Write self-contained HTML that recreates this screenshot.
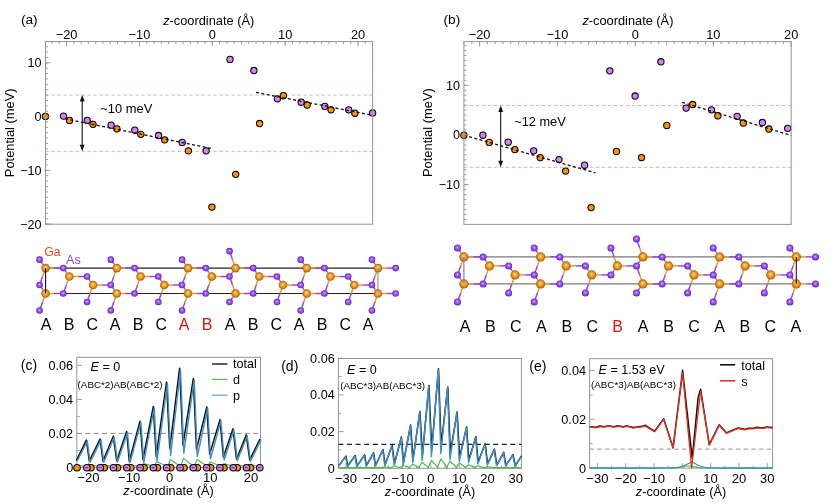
<!DOCTYPE html>
<html><head><meta charset="utf-8"><title>Potential profiles</title><style>html,body{margin:0;padding:0;background:#fff;width:830px;height:504px;overflow:hidden}</style></head><body>
<svg width="830" height="504" viewBox="0 0 830 504" style="position:absolute;left:0;top:0" font-family="&apos;Liberation Sans&apos;, Arial, Helvetica, sans-serif">
<rect width="830" height="504" fill="#fff"/>
<line x1="45.50" y1="95.10" x2="372.60" y2="95.10" stroke="#f5a39d" stroke-width="0.9" stroke-dasharray="3.4,2.6"/>
<line x1="45.50" y1="151.40" x2="372.60" y2="151.40" stroke="#f5a39d" stroke-width="0.9" stroke-dasharray="3.4,2.6"/>
<line x1="82.20" y1="100.50" x2="82.20" y2="145.60" stroke="#111" stroke-width="1.1" />
<path d="M82.2,94.9 L79.8,101.4 L84.6,101.4 Z" fill="#111"/>
<path d="M82.2,151.2 L79.8,144.7 L84.6,144.7 Z" fill="#111"/>
<text x="100.30" y="112.70" font-size="12.9" text-anchor="start" fill="#000" >~10 meV</text>
<circle cx="63.50" cy="116.10" r="3.15" fill="#d682f7" stroke="#000" stroke-width="1.05"/>
<circle cx="87.20" cy="120.40" r="3.15" fill="#d682f7" stroke="#000" stroke-width="1.05"/>
<circle cx="111.10" cy="125.20" r="3.15" fill="#d682f7" stroke="#000" stroke-width="1.05"/>
<circle cx="134.80" cy="130.10" r="3.15" fill="#d682f7" stroke="#000" stroke-width="1.05"/>
<circle cx="158.60" cy="135.50" r="3.15" fill="#d682f7" stroke="#000" stroke-width="1.05"/>
<circle cx="182.20" cy="142.40" r="3.15" fill="#d682f7" stroke="#000" stroke-width="1.05"/>
<circle cx="206.10" cy="150.80" r="3.15" fill="#d682f7" stroke="#000" stroke-width="1.05"/>
<circle cx="230.00" cy="59.40" r="3.15" fill="#d682f7" stroke="#000" stroke-width="1.05"/>
<circle cx="253.90" cy="70.50" r="3.15" fill="#d682f7" stroke="#000" stroke-width="1.05"/>
<circle cx="277.40" cy="98.80" r="3.15" fill="#d682f7" stroke="#000" stroke-width="1.05"/>
<circle cx="301.20" cy="102.20" r="3.15" fill="#d682f7" stroke="#000" stroke-width="1.05"/>
<circle cx="324.90" cy="106.30" r="3.15" fill="#d682f7" stroke="#000" stroke-width="1.05"/>
<circle cx="348.70" cy="109.80" r="3.15" fill="#d682f7" stroke="#000" stroke-width="1.05"/>
<circle cx="372.60" cy="112.90" r="3.15" fill="#d682f7" stroke="#000" stroke-width="1.05"/>
<circle cx="45.40" cy="116.40" r="3.15" fill="#ff9200" stroke="#000" stroke-width="1.05"/>
<circle cx="69.50" cy="120.40" r="3.15" fill="#ff9200" stroke="#000" stroke-width="1.05"/>
<circle cx="93.00" cy="124.30" r="3.15" fill="#ff9200" stroke="#000" stroke-width="1.05"/>
<circle cx="116.90" cy="128.80" r="3.15" fill="#ff9200" stroke="#000" stroke-width="1.05"/>
<circle cx="140.80" cy="134.30" r="3.15" fill="#ff9200" stroke="#000" stroke-width="1.05"/>
<circle cx="164.70" cy="139.80" r="3.15" fill="#ff9200" stroke="#000" stroke-width="1.05"/>
<circle cx="188.40" cy="150.80" r="3.15" fill="#ff9200" stroke="#000" stroke-width="1.05"/>
<circle cx="211.90" cy="207.10" r="3.15" fill="#ff9200" stroke="#000" stroke-width="1.05"/>
<circle cx="235.70" cy="174.30" r="3.15" fill="#ff9200" stroke="#000" stroke-width="1.05"/>
<circle cx="259.60" cy="123.50" r="3.15" fill="#ff9200" stroke="#000" stroke-width="1.05"/>
<circle cx="283.40" cy="95.70" r="3.15" fill="#ff9200" stroke="#000" stroke-width="1.05"/>
<circle cx="307.20" cy="105.00" r="3.15" fill="#ff9200" stroke="#000" stroke-width="1.05"/>
<circle cx="331.00" cy="109.80" r="3.15" fill="#ff9200" stroke="#000" stroke-width="1.05"/>
<circle cx="354.90" cy="113.20" r="3.15" fill="#ff9200" stroke="#000" stroke-width="1.05"/>
<line x1="65.00" y1="118.80" x2="212.00" y2="148.60" stroke="#111" stroke-width="1.3" stroke-dasharray="3.0,2.4"/>
<line x1="256.00" y1="92.40" x2="372.20" y2="115.20" stroke="#111" stroke-width="1.3" stroke-dasharray="3.0,2.4"/>
<rect x="45.5" y="41.5" width="327.1" height="182.7" fill="none" stroke="#959595" stroke-width="1"/>
<line x1="51.99" y1="41.50" x2="51.99" y2="44.10" stroke="#959595" stroke-width="0.9" />
<line x1="59.27" y1="41.50" x2="59.27" y2="44.10" stroke="#959595" stroke-width="0.9" />
<line x1="66.56" y1="41.50" x2="66.56" y2="44.10" stroke="#959595" stroke-width="0.9" />
<line x1="73.85" y1="41.50" x2="73.85" y2="44.10" stroke="#959595" stroke-width="0.9" />
<line x1="81.13" y1="41.50" x2="81.13" y2="44.10" stroke="#959595" stroke-width="0.9" />
<line x1="88.42" y1="41.50" x2="88.42" y2="44.10" stroke="#959595" stroke-width="0.9" />
<line x1="95.71" y1="41.50" x2="95.71" y2="44.10" stroke="#959595" stroke-width="0.9" />
<line x1="103.00" y1="41.50" x2="103.00" y2="44.10" stroke="#959595" stroke-width="0.9" />
<line x1="110.28" y1="41.50" x2="110.28" y2="44.10" stroke="#959595" stroke-width="0.9" />
<line x1="117.57" y1="41.50" x2="117.57" y2="44.10" stroke="#959595" stroke-width="0.9" />
<line x1="124.86" y1="41.50" x2="124.86" y2="44.10" stroke="#959595" stroke-width="0.9" />
<line x1="132.14" y1="41.50" x2="132.14" y2="44.10" stroke="#959595" stroke-width="0.9" />
<line x1="139.43" y1="41.50" x2="139.43" y2="44.10" stroke="#959595" stroke-width="0.9" />
<line x1="146.72" y1="41.50" x2="146.72" y2="44.10" stroke="#959595" stroke-width="0.9" />
<line x1="154.00" y1="41.50" x2="154.00" y2="44.10" stroke="#959595" stroke-width="0.9" />
<line x1="161.29" y1="41.50" x2="161.29" y2="44.10" stroke="#959595" stroke-width="0.9" />
<line x1="168.58" y1="41.50" x2="168.58" y2="44.10" stroke="#959595" stroke-width="0.9" />
<line x1="175.87" y1="41.50" x2="175.87" y2="44.10" stroke="#959595" stroke-width="0.9" />
<line x1="183.15" y1="41.50" x2="183.15" y2="44.10" stroke="#959595" stroke-width="0.9" />
<line x1="190.44" y1="41.50" x2="190.44" y2="44.10" stroke="#959595" stroke-width="0.9" />
<line x1="197.73" y1="41.50" x2="197.73" y2="44.10" stroke="#959595" stroke-width="0.9" />
<line x1="205.01" y1="41.50" x2="205.01" y2="44.10" stroke="#959595" stroke-width="0.9" />
<line x1="212.30" y1="41.50" x2="212.30" y2="44.10" stroke="#959595" stroke-width="0.9" />
<line x1="219.59" y1="41.50" x2="219.59" y2="44.10" stroke="#959595" stroke-width="0.9" />
<line x1="226.87" y1="41.50" x2="226.87" y2="44.10" stroke="#959595" stroke-width="0.9" />
<line x1="234.16" y1="41.50" x2="234.16" y2="44.10" stroke="#959595" stroke-width="0.9" />
<line x1="241.45" y1="41.50" x2="241.45" y2="44.10" stroke="#959595" stroke-width="0.9" />
<line x1="248.74" y1="41.50" x2="248.74" y2="44.10" stroke="#959595" stroke-width="0.9" />
<line x1="256.02" y1="41.50" x2="256.02" y2="44.10" stroke="#959595" stroke-width="0.9" />
<line x1="263.31" y1="41.50" x2="263.31" y2="44.10" stroke="#959595" stroke-width="0.9" />
<line x1="270.60" y1="41.50" x2="270.60" y2="44.10" stroke="#959595" stroke-width="0.9" />
<line x1="277.88" y1="41.50" x2="277.88" y2="44.10" stroke="#959595" stroke-width="0.9" />
<line x1="285.17" y1="41.50" x2="285.17" y2="44.10" stroke="#959595" stroke-width="0.9" />
<line x1="292.46" y1="41.50" x2="292.46" y2="44.10" stroke="#959595" stroke-width="0.9" />
<line x1="299.74" y1="41.50" x2="299.74" y2="44.10" stroke="#959595" stroke-width="0.9" />
<line x1="307.03" y1="41.50" x2="307.03" y2="44.10" stroke="#959595" stroke-width="0.9" />
<line x1="314.32" y1="41.50" x2="314.32" y2="44.10" stroke="#959595" stroke-width="0.9" />
<line x1="321.61" y1="41.50" x2="321.61" y2="44.10" stroke="#959595" stroke-width="0.9" />
<line x1="328.89" y1="41.50" x2="328.89" y2="44.10" stroke="#959595" stroke-width="0.9" />
<line x1="336.18" y1="41.50" x2="336.18" y2="44.10" stroke="#959595" stroke-width="0.9" />
<line x1="343.47" y1="41.50" x2="343.47" y2="44.10" stroke="#959595" stroke-width="0.9" />
<line x1="350.75" y1="41.50" x2="350.75" y2="44.10" stroke="#959595" stroke-width="0.9" />
<line x1="358.04" y1="41.50" x2="358.04" y2="44.10" stroke="#959595" stroke-width="0.9" />
<line x1="365.33" y1="41.50" x2="365.33" y2="44.10" stroke="#959595" stroke-width="0.9" />
<line x1="66.56" y1="41.50" x2="66.56" y2="46.50" stroke="#959595" stroke-width="0.9" />
<line x1="139.43" y1="41.50" x2="139.43" y2="46.50" stroke="#959595" stroke-width="0.9" />
<line x1="212.30" y1="41.50" x2="212.30" y2="46.50" stroke="#959595" stroke-width="0.9" />
<line x1="285.17" y1="41.50" x2="285.17" y2="46.50" stroke="#959595" stroke-width="0.9" />
<line x1="358.04" y1="41.50" x2="358.04" y2="46.50" stroke="#959595" stroke-width="0.9" />
<line x1="45.50" y1="224.10" x2="48.10" y2="224.10" stroke="#959595" stroke-width="0.9" />
<line x1="45.50" y1="218.72" x2="48.10" y2="218.72" stroke="#959595" stroke-width="0.9" />
<line x1="45.50" y1="213.35" x2="48.10" y2="213.35" stroke="#959595" stroke-width="0.9" />
<line x1="45.50" y1="207.97" x2="48.10" y2="207.97" stroke="#959595" stroke-width="0.9" />
<line x1="45.50" y1="202.60" x2="48.10" y2="202.60" stroke="#959595" stroke-width="0.9" />
<line x1="45.50" y1="197.22" x2="48.10" y2="197.22" stroke="#959595" stroke-width="0.9" />
<line x1="45.50" y1="191.85" x2="48.10" y2="191.85" stroke="#959595" stroke-width="0.9" />
<line x1="45.50" y1="186.47" x2="48.10" y2="186.47" stroke="#959595" stroke-width="0.9" />
<line x1="45.50" y1="181.10" x2="48.10" y2="181.10" stroke="#959595" stroke-width="0.9" />
<line x1="45.50" y1="175.72" x2="48.10" y2="175.72" stroke="#959595" stroke-width="0.9" />
<line x1="45.50" y1="170.35" x2="48.10" y2="170.35" stroke="#959595" stroke-width="0.9" />
<line x1="45.50" y1="164.97" x2="48.10" y2="164.97" stroke="#959595" stroke-width="0.9" />
<line x1="45.50" y1="159.60" x2="48.10" y2="159.60" stroke="#959595" stroke-width="0.9" />
<line x1="45.50" y1="154.22" x2="48.10" y2="154.22" stroke="#959595" stroke-width="0.9" />
<line x1="45.50" y1="148.85" x2="48.10" y2="148.85" stroke="#959595" stroke-width="0.9" />
<line x1="45.50" y1="143.47" x2="48.10" y2="143.47" stroke="#959595" stroke-width="0.9" />
<line x1="45.50" y1="138.10" x2="48.10" y2="138.10" stroke="#959595" stroke-width="0.9" />
<line x1="45.50" y1="132.72" x2="48.10" y2="132.72" stroke="#959595" stroke-width="0.9" />
<line x1="45.50" y1="127.35" x2="48.10" y2="127.35" stroke="#959595" stroke-width="0.9" />
<line x1="45.50" y1="121.97" x2="48.10" y2="121.97" stroke="#959595" stroke-width="0.9" />
<line x1="45.50" y1="116.60" x2="48.10" y2="116.60" stroke="#959595" stroke-width="0.9" />
<line x1="45.50" y1="111.22" x2="48.10" y2="111.22" stroke="#959595" stroke-width="0.9" />
<line x1="45.50" y1="105.85" x2="48.10" y2="105.85" stroke="#959595" stroke-width="0.9" />
<line x1="45.50" y1="100.47" x2="48.10" y2="100.47" stroke="#959595" stroke-width="0.9" />
<line x1="45.50" y1="95.10" x2="48.10" y2="95.10" stroke="#959595" stroke-width="0.9" />
<line x1="45.50" y1="89.72" x2="48.10" y2="89.72" stroke="#959595" stroke-width="0.9" />
<line x1="45.50" y1="84.35" x2="48.10" y2="84.35" stroke="#959595" stroke-width="0.9" />
<line x1="45.50" y1="78.97" x2="48.10" y2="78.97" stroke="#959595" stroke-width="0.9" />
<line x1="45.50" y1="73.60" x2="48.10" y2="73.60" stroke="#959595" stroke-width="0.9" />
<line x1="45.50" y1="68.22" x2="48.10" y2="68.22" stroke="#959595" stroke-width="0.9" />
<line x1="45.50" y1="62.85" x2="48.10" y2="62.85" stroke="#959595" stroke-width="0.9" />
<line x1="45.50" y1="57.47" x2="48.10" y2="57.47" stroke="#959595" stroke-width="0.9" />
<line x1="45.50" y1="52.10" x2="48.10" y2="52.10" stroke="#959595" stroke-width="0.9" />
<line x1="45.50" y1="46.72" x2="48.10" y2="46.72" stroke="#959595" stroke-width="0.9" />
<line x1="45.50" y1="224.10" x2="50.50" y2="224.10" stroke="#959595" stroke-width="0.9" />
<line x1="45.50" y1="170.35" x2="50.50" y2="170.35" stroke="#959595" stroke-width="0.9" />
<line x1="45.50" y1="116.60" x2="50.50" y2="116.60" stroke="#959595" stroke-width="0.9" />
<line x1="45.50" y1="62.85" x2="50.50" y2="62.85" stroke="#959595" stroke-width="0.9" />
<text x="66.56" y="38.90" font-size="12.8" text-anchor="middle" fill="#000" >−20</text>
<text x="139.43" y="38.90" font-size="12.8" text-anchor="middle" fill="#000" >−10</text>
<text x="212.30" y="38.90" font-size="12.8" text-anchor="middle" fill="#000" >0</text>
<text x="285.17" y="38.90" font-size="12.8" text-anchor="middle" fill="#000" >10</text>
<text x="358.04" y="38.90" font-size="12.8" text-anchor="middle" fill="#000" >20</text>
<text x="41.60" y="67.25" font-size="12.6" text-anchor="end" fill="#000" >10</text>
<text x="41.60" y="121.00" font-size="12.6" text-anchor="end" fill="#000" >0</text>
<text x="41.60" y="174.75" font-size="12.6" text-anchor="end" fill="#000" >−10</text>
<text x="41.60" y="228.50" font-size="12.6" text-anchor="end" fill="#000" >−20</text>
<text x="20.90" y="23.60" font-size="13.7" text-anchor="start" fill="#000" >(a)</text>
<text x="208.70" y="24.70" font-size="12.8" text-anchor="middle" fill="#000" ><tspan font-style="italic">z</tspan>-coordinate (Å)</text>
<text transform="translate(13.9,132.8) rotate(-90)" font-size="12.9" text-anchor="middle">Potential (meV)</text>
<line x1="463.90" y1="105.50" x2="791.20" y2="105.50" stroke="#f5a39d" stroke-width="0.9" stroke-dasharray="3.4,2.6"/>
<line x1="463.90" y1="167.40" x2="791.20" y2="167.40" stroke="#f5a39d" stroke-width="0.9" stroke-dasharray="3.4,2.6"/>
<line x1="500.70" y1="111.20" x2="500.70" y2="161.70" stroke="#111" stroke-width="1.1" />
<path d="M500.7,105.6 L498.3,112.1 L503.1,112.1 Z" fill="#111"/>
<path d="M500.7,167.3 L498.3,160.8 L503.1,160.8 Z" fill="#111"/>
<text x="514.20" y="125.80" font-size="12.8" text-anchor="start" fill="#000" >~12 meV</text>
<circle cx="482.90" cy="135.20" r="3.15" fill="#d682f7" stroke="#000" stroke-width="1.05"/>
<circle cx="508.20" cy="142.20" r="3.15" fill="#d682f7" stroke="#000" stroke-width="1.05"/>
<circle cx="533.70" cy="150.80" r="3.15" fill="#d682f7" stroke="#000" stroke-width="1.05"/>
<circle cx="559.00" cy="159.60" r="3.15" fill="#d682f7" stroke="#000" stroke-width="1.05"/>
<circle cx="584.60" cy="165.20" r="3.15" fill="#d682f7" stroke="#000" stroke-width="1.05"/>
<circle cx="609.80" cy="70.80" r="3.15" fill="#d682f7" stroke="#000" stroke-width="1.05"/>
<circle cx="635.10" cy="96.00" r="3.15" fill="#d682f7" stroke="#000" stroke-width="1.05"/>
<circle cx="660.90" cy="61.80" r="3.15" fill="#d682f7" stroke="#000" stroke-width="1.05"/>
<circle cx="686.10" cy="108.10" r="3.15" fill="#d682f7" stroke="#000" stroke-width="1.05"/>
<circle cx="711.50" cy="109.80" r="3.15" fill="#d682f7" stroke="#000" stroke-width="1.05"/>
<circle cx="737.10" cy="116.30" r="3.15" fill="#d682f7" stroke="#000" stroke-width="1.05"/>
<circle cx="762.40" cy="122.50" r="3.15" fill="#d682f7" stroke="#000" stroke-width="1.05"/>
<circle cx="787.70" cy="128.30" r="3.15" fill="#d682f7" stroke="#000" stroke-width="1.05"/>
<circle cx="463.90" cy="135.20" r="3.15" fill="#ff9200" stroke="#000" stroke-width="1.05"/>
<circle cx="489.30" cy="142.40" r="3.15" fill="#ff9200" stroke="#000" stroke-width="1.05"/>
<circle cx="514.80" cy="149.60" r="3.15" fill="#ff9200" stroke="#000" stroke-width="1.05"/>
<circle cx="540.20" cy="157.60" r="3.15" fill="#ff9200" stroke="#000" stroke-width="1.05"/>
<circle cx="565.60" cy="171.10" r="3.15" fill="#ff9200" stroke="#000" stroke-width="1.05"/>
<circle cx="591.10" cy="207.60" r="3.15" fill="#ff9200" stroke="#000" stroke-width="1.05"/>
<circle cx="616.50" cy="151.40" r="3.15" fill="#ff9200" stroke="#000" stroke-width="1.05"/>
<circle cx="641.50" cy="157.60" r="3.15" fill="#ff9200" stroke="#000" stroke-width="1.05"/>
<circle cx="666.80" cy="125.40" r="3.15" fill="#ff9200" stroke="#000" stroke-width="1.05"/>
<circle cx="692.70" cy="104.50" r="3.15" fill="#ff9200" stroke="#000" stroke-width="1.05"/>
<circle cx="717.90" cy="115.70" r="3.15" fill="#ff9200" stroke="#000" stroke-width="1.05"/>
<circle cx="743.30" cy="123.00" r="3.15" fill="#ff9200" stroke="#000" stroke-width="1.05"/>
<circle cx="768.90" cy="129.00" r="3.15" fill="#ff9200" stroke="#000" stroke-width="1.05"/>
<line x1="463.90" y1="135.20" x2="595.50" y2="172.90" stroke="#111" stroke-width="1.3" stroke-dasharray="3.0,2.4"/>
<line x1="682.20" y1="102.30" x2="791.30" y2="135.50" stroke="#111" stroke-width="1.3" stroke-dasharray="3.0,2.4"/>
<rect x="463.9" y="41.6" width="327.30000000000007" height="182.8" fill="none" stroke="#959595" stroke-width="1"/>
<line x1="464.02" y1="41.60" x2="464.02" y2="44.20" stroke="#959595" stroke-width="0.9" />
<line x1="471.81" y1="41.60" x2="471.81" y2="44.20" stroke="#959595" stroke-width="0.9" />
<line x1="479.60" y1="41.60" x2="479.60" y2="44.20" stroke="#959595" stroke-width="0.9" />
<line x1="487.39" y1="41.60" x2="487.39" y2="44.20" stroke="#959595" stroke-width="0.9" />
<line x1="495.18" y1="41.60" x2="495.18" y2="44.20" stroke="#959595" stroke-width="0.9" />
<line x1="502.97" y1="41.60" x2="502.97" y2="44.20" stroke="#959595" stroke-width="0.9" />
<line x1="510.76" y1="41.60" x2="510.76" y2="44.20" stroke="#959595" stroke-width="0.9" />
<line x1="518.55" y1="41.60" x2="518.55" y2="44.20" stroke="#959595" stroke-width="0.9" />
<line x1="526.34" y1="41.60" x2="526.34" y2="44.20" stroke="#959595" stroke-width="0.9" />
<line x1="534.13" y1="41.60" x2="534.13" y2="44.20" stroke="#959595" stroke-width="0.9" />
<line x1="541.92" y1="41.60" x2="541.92" y2="44.20" stroke="#959595" stroke-width="0.9" />
<line x1="549.71" y1="41.60" x2="549.71" y2="44.20" stroke="#959595" stroke-width="0.9" />
<line x1="557.50" y1="41.60" x2="557.50" y2="44.20" stroke="#959595" stroke-width="0.9" />
<line x1="565.29" y1="41.60" x2="565.29" y2="44.20" stroke="#959595" stroke-width="0.9" />
<line x1="573.08" y1="41.60" x2="573.08" y2="44.20" stroke="#959595" stroke-width="0.9" />
<line x1="580.87" y1="41.60" x2="580.87" y2="44.20" stroke="#959595" stroke-width="0.9" />
<line x1="588.66" y1="41.60" x2="588.66" y2="44.20" stroke="#959595" stroke-width="0.9" />
<line x1="596.45" y1="41.60" x2="596.45" y2="44.20" stroke="#959595" stroke-width="0.9" />
<line x1="604.24" y1="41.60" x2="604.24" y2="44.20" stroke="#959595" stroke-width="0.9" />
<line x1="612.03" y1="41.60" x2="612.03" y2="44.20" stroke="#959595" stroke-width="0.9" />
<line x1="619.82" y1="41.60" x2="619.82" y2="44.20" stroke="#959595" stroke-width="0.9" />
<line x1="627.61" y1="41.60" x2="627.61" y2="44.20" stroke="#959595" stroke-width="0.9" />
<line x1="635.40" y1="41.60" x2="635.40" y2="44.20" stroke="#959595" stroke-width="0.9" />
<line x1="643.19" y1="41.60" x2="643.19" y2="44.20" stroke="#959595" stroke-width="0.9" />
<line x1="650.98" y1="41.60" x2="650.98" y2="44.20" stroke="#959595" stroke-width="0.9" />
<line x1="658.77" y1="41.60" x2="658.77" y2="44.20" stroke="#959595" stroke-width="0.9" />
<line x1="666.56" y1="41.60" x2="666.56" y2="44.20" stroke="#959595" stroke-width="0.9" />
<line x1="674.35" y1="41.60" x2="674.35" y2="44.20" stroke="#959595" stroke-width="0.9" />
<line x1="682.14" y1="41.60" x2="682.14" y2="44.20" stroke="#959595" stroke-width="0.9" />
<line x1="689.93" y1="41.60" x2="689.93" y2="44.20" stroke="#959595" stroke-width="0.9" />
<line x1="697.72" y1="41.60" x2="697.72" y2="44.20" stroke="#959595" stroke-width="0.9" />
<line x1="705.51" y1="41.60" x2="705.51" y2="44.20" stroke="#959595" stroke-width="0.9" />
<line x1="713.30" y1="41.60" x2="713.30" y2="44.20" stroke="#959595" stroke-width="0.9" />
<line x1="721.09" y1="41.60" x2="721.09" y2="44.20" stroke="#959595" stroke-width="0.9" />
<line x1="728.88" y1="41.60" x2="728.88" y2="44.20" stroke="#959595" stroke-width="0.9" />
<line x1="736.67" y1="41.60" x2="736.67" y2="44.20" stroke="#959595" stroke-width="0.9" />
<line x1="744.46" y1="41.60" x2="744.46" y2="44.20" stroke="#959595" stroke-width="0.9" />
<line x1="752.25" y1="41.60" x2="752.25" y2="44.20" stroke="#959595" stroke-width="0.9" />
<line x1="760.04" y1="41.60" x2="760.04" y2="44.20" stroke="#959595" stroke-width="0.9" />
<line x1="767.83" y1="41.60" x2="767.83" y2="44.20" stroke="#959595" stroke-width="0.9" />
<line x1="775.62" y1="41.60" x2="775.62" y2="44.20" stroke="#959595" stroke-width="0.9" />
<line x1="783.41" y1="41.60" x2="783.41" y2="44.20" stroke="#959595" stroke-width="0.9" />
<line x1="479.60" y1="41.60" x2="479.60" y2="46.60" stroke="#959595" stroke-width="0.9" />
<line x1="557.50" y1="41.60" x2="557.50" y2="46.60" stroke="#959595" stroke-width="0.9" />
<line x1="635.40" y1="41.60" x2="635.40" y2="46.60" stroke="#959595" stroke-width="0.9" />
<line x1="713.30" y1="41.60" x2="713.30" y2="46.60" stroke="#959595" stroke-width="0.9" />
<line x1="791.20" y1="41.60" x2="791.20" y2="46.60" stroke="#959595" stroke-width="0.9" />
<line x1="463.90" y1="219.49" x2="466.50" y2="219.49" stroke="#959595" stroke-width="0.9" />
<line x1="463.90" y1="214.52" x2="466.50" y2="214.52" stroke="#959595" stroke-width="0.9" />
<line x1="463.90" y1="209.55" x2="466.50" y2="209.55" stroke="#959595" stroke-width="0.9" />
<line x1="463.90" y1="204.58" x2="466.50" y2="204.58" stroke="#959595" stroke-width="0.9" />
<line x1="463.90" y1="199.61" x2="466.50" y2="199.61" stroke="#959595" stroke-width="0.9" />
<line x1="463.90" y1="194.64" x2="466.50" y2="194.64" stroke="#959595" stroke-width="0.9" />
<line x1="463.90" y1="189.67" x2="466.50" y2="189.67" stroke="#959595" stroke-width="0.9" />
<line x1="463.90" y1="184.70" x2="466.50" y2="184.70" stroke="#959595" stroke-width="0.9" />
<line x1="463.90" y1="179.73" x2="466.50" y2="179.73" stroke="#959595" stroke-width="0.9" />
<line x1="463.90" y1="174.76" x2="466.50" y2="174.76" stroke="#959595" stroke-width="0.9" />
<line x1="463.90" y1="169.79" x2="466.50" y2="169.79" stroke="#959595" stroke-width="0.9" />
<line x1="463.90" y1="164.82" x2="466.50" y2="164.82" stroke="#959595" stroke-width="0.9" />
<line x1="463.90" y1="159.85" x2="466.50" y2="159.85" stroke="#959595" stroke-width="0.9" />
<line x1="463.90" y1="154.88" x2="466.50" y2="154.88" stroke="#959595" stroke-width="0.9" />
<line x1="463.90" y1="149.91" x2="466.50" y2="149.91" stroke="#959595" stroke-width="0.9" />
<line x1="463.90" y1="144.94" x2="466.50" y2="144.94" stroke="#959595" stroke-width="0.9" />
<line x1="463.90" y1="139.97" x2="466.50" y2="139.97" stroke="#959595" stroke-width="0.9" />
<line x1="463.90" y1="135.00" x2="466.50" y2="135.00" stroke="#959595" stroke-width="0.9" />
<line x1="463.90" y1="130.03" x2="466.50" y2="130.03" stroke="#959595" stroke-width="0.9" />
<line x1="463.90" y1="125.06" x2="466.50" y2="125.06" stroke="#959595" stroke-width="0.9" />
<line x1="463.90" y1="120.09" x2="466.50" y2="120.09" stroke="#959595" stroke-width="0.9" />
<line x1="463.90" y1="115.12" x2="466.50" y2="115.12" stroke="#959595" stroke-width="0.9" />
<line x1="463.90" y1="110.15" x2="466.50" y2="110.15" stroke="#959595" stroke-width="0.9" />
<line x1="463.90" y1="105.18" x2="466.50" y2="105.18" stroke="#959595" stroke-width="0.9" />
<line x1="463.90" y1="100.21" x2="466.50" y2="100.21" stroke="#959595" stroke-width="0.9" />
<line x1="463.90" y1="95.24" x2="466.50" y2="95.24" stroke="#959595" stroke-width="0.9" />
<line x1="463.90" y1="90.27" x2="466.50" y2="90.27" stroke="#959595" stroke-width="0.9" />
<line x1="463.90" y1="85.30" x2="466.50" y2="85.30" stroke="#959595" stroke-width="0.9" />
<line x1="463.90" y1="80.33" x2="466.50" y2="80.33" stroke="#959595" stroke-width="0.9" />
<line x1="463.90" y1="75.36" x2="466.50" y2="75.36" stroke="#959595" stroke-width="0.9" />
<line x1="463.90" y1="70.39" x2="466.50" y2="70.39" stroke="#959595" stroke-width="0.9" />
<line x1="463.90" y1="65.42" x2="466.50" y2="65.42" stroke="#959595" stroke-width="0.9" />
<line x1="463.90" y1="60.45" x2="466.50" y2="60.45" stroke="#959595" stroke-width="0.9" />
<line x1="463.90" y1="55.48" x2="466.50" y2="55.48" stroke="#959595" stroke-width="0.9" />
<line x1="463.90" y1="50.51" x2="466.50" y2="50.51" stroke="#959595" stroke-width="0.9" />
<line x1="463.90" y1="45.54" x2="466.50" y2="45.54" stroke="#959595" stroke-width="0.9" />
<line x1="463.90" y1="184.70" x2="468.90" y2="184.70" stroke="#959595" stroke-width="0.9" />
<line x1="463.90" y1="135.00" x2="468.90" y2="135.00" stroke="#959595" stroke-width="0.9" />
<line x1="463.90" y1="85.30" x2="468.90" y2="85.30" stroke="#959595" stroke-width="0.9" />
<text x="479.60" y="39.00" font-size="12.8" text-anchor="middle" fill="#000" >−20</text>
<text x="557.50" y="39.00" font-size="12.8" text-anchor="middle" fill="#000" >−10</text>
<text x="635.40" y="39.00" font-size="12.8" text-anchor="middle" fill="#000" >0</text>
<text x="713.30" y="39.00" font-size="12.8" text-anchor="middle" fill="#000" >10</text>
<text x="791.20" y="39.00" font-size="12.8" text-anchor="middle" fill="#000" >20</text>
<text x="460.00" y="89.70" font-size="12.6" text-anchor="end" fill="#000" >10</text>
<text x="460.00" y="139.40" font-size="12.6" text-anchor="end" fill="#000" >0</text>
<text x="460.00" y="189.10" font-size="12.6" text-anchor="end" fill="#000" >−10</text>
<text x="443.50" y="23.60" font-size="13.7" text-anchor="start" fill="#000" >(b)</text>
<text x="627.90" y="24.50" font-size="12.8" text-anchor="middle" fill="#000" ><tspan font-style="italic">z</tspan>-coordinate (Å)</text>
<text transform="translate(432.0,132.6) rotate(-90)" font-size="12.9" text-anchor="middle">Potential (meV)</text>
<defs><radialGradient id="gGa" cx="0.5" cy="0.5" r="0.5" fx="0.47" fy="0.4"><stop offset="0" stop-color="#fffce8"/><stop offset="0.2" stop-color="#fac458"/><stop offset="0.62" stop-color="#e6901c"/><stop offset="0.88" stop-color="#c06c10"/><stop offset="1" stop-color="#9a560c"/></radialGradient><radialGradient id="gAs" cx="0.5" cy="0.5" r="0.5" fx="0.47" fy="0.42"><stop offset="0" stop-color="#fbeeff"/><stop offset="0.22" stop-color="#b478f8"/><stop offset="0.65" stop-color="#8c44ec"/><stop offset="0.9" stop-color="#6c2cc8"/><stop offset="1" stop-color="#5420a8"/></radialGradient></defs>
<line x1="45.60" y1="268.10" x2="377.96" y2="268.10" stroke="#222" stroke-width="1.2" />
<line x1="45.60" y1="293.51" x2="377.96" y2="293.51" stroke="#222" stroke-width="1.2" />
<line x1="45.60" y1="268.10" x2="54.45" y2="268.10" stroke="#eb9a2e" stroke-width="1.5" />
<line x1="54.45" y1="268.10" x2="63.30" y2="268.10" stroke="#9448ea" stroke-width="1.5" />
<line x1="45.60" y1="268.10" x2="42.60" y2="263.87" stroke="#eb9a2e" stroke-width="1.5" />
<line x1="42.60" y1="263.87" x2="39.60" y2="259.63" stroke="#9448ea" stroke-width="1.5" />
<line x1="45.60" y1="268.10" x2="42.60" y2="276.57" stroke="#eb9a2e" stroke-width="1.5" />
<line x1="42.60" y1="276.57" x2="39.60" y2="285.04" stroke="#9448ea" stroke-width="1.5" />
<line x1="45.60" y1="293.51" x2="54.45" y2="293.51" stroke="#eb9a2e" stroke-width="1.5" />
<line x1="54.45" y1="293.51" x2="63.30" y2="293.51" stroke="#9448ea" stroke-width="1.5" />
<line x1="45.60" y1="293.51" x2="42.60" y2="289.28" stroke="#eb9a2e" stroke-width="1.5" />
<line x1="42.60" y1="289.28" x2="39.60" y2="285.04" stroke="#9448ea" stroke-width="1.5" />
<line x1="45.60" y1="293.51" x2="42.60" y2="301.98" stroke="#eb9a2e" stroke-width="1.5" />
<line x1="42.60" y1="301.98" x2="39.60" y2="310.45" stroke="#9448ea" stroke-width="1.5" />
<line x1="69.34" y1="276.57" x2="78.19" y2="276.57" stroke="#eb9a2e" stroke-width="1.5" />
<line x1="78.19" y1="276.57" x2="87.04" y2="276.57" stroke="#9448ea" stroke-width="1.5" />
<line x1="69.34" y1="276.57" x2="66.34" y2="272.34" stroke="#eb9a2e" stroke-width="1.5" />
<line x1="66.34" y1="272.34" x2="63.34" y2="268.10" stroke="#9448ea" stroke-width="1.5" />
<line x1="69.34" y1="276.57" x2="66.34" y2="285.04" stroke="#eb9a2e" stroke-width="1.5" />
<line x1="66.34" y1="285.04" x2="63.34" y2="293.51" stroke="#9448ea" stroke-width="1.5" />
<line x1="93.08" y1="285.04" x2="101.93" y2="285.04" stroke="#eb9a2e" stroke-width="1.5" />
<line x1="101.93" y1="285.04" x2="110.78" y2="285.04" stroke="#9448ea" stroke-width="1.5" />
<line x1="93.08" y1="285.04" x2="90.08" y2="280.81" stroke="#eb9a2e" stroke-width="1.5" />
<line x1="90.08" y1="280.81" x2="87.08" y2="276.57" stroke="#9448ea" stroke-width="1.5" />
<line x1="93.08" y1="285.04" x2="90.08" y2="293.51" stroke="#eb9a2e" stroke-width="1.5" />
<line x1="90.08" y1="293.51" x2="87.08" y2="301.98" stroke="#9448ea" stroke-width="1.5" />
<line x1="116.82" y1="268.10" x2="125.67" y2="268.10" stroke="#eb9a2e" stroke-width="1.5" />
<line x1="125.67" y1="268.10" x2="134.52" y2="268.10" stroke="#9448ea" stroke-width="1.5" />
<line x1="116.82" y1="268.10" x2="113.82" y2="263.87" stroke="#eb9a2e" stroke-width="1.5" />
<line x1="113.82" y1="263.87" x2="110.82" y2="259.63" stroke="#9448ea" stroke-width="1.5" />
<line x1="116.82" y1="268.10" x2="113.82" y2="276.57" stroke="#eb9a2e" stroke-width="1.5" />
<line x1="113.82" y1="276.57" x2="110.82" y2="285.04" stroke="#9448ea" stroke-width="1.5" />
<line x1="116.82" y1="293.51" x2="125.67" y2="293.51" stroke="#eb9a2e" stroke-width="1.5" />
<line x1="125.67" y1="293.51" x2="134.52" y2="293.51" stroke="#9448ea" stroke-width="1.5" />
<line x1="116.82" y1="293.51" x2="113.82" y2="289.28" stroke="#eb9a2e" stroke-width="1.5" />
<line x1="113.82" y1="289.28" x2="110.82" y2="285.04" stroke="#9448ea" stroke-width="1.5" />
<line x1="116.82" y1="293.51" x2="113.82" y2="301.98" stroke="#eb9a2e" stroke-width="1.5" />
<line x1="113.82" y1="301.98" x2="110.82" y2="310.45" stroke="#9448ea" stroke-width="1.5" />
<line x1="140.56" y1="276.57" x2="149.41" y2="276.57" stroke="#eb9a2e" stroke-width="1.5" />
<line x1="149.41" y1="276.57" x2="158.26" y2="276.57" stroke="#9448ea" stroke-width="1.5" />
<line x1="140.56" y1="276.57" x2="137.56" y2="272.34" stroke="#eb9a2e" stroke-width="1.5" />
<line x1="137.56" y1="272.34" x2="134.56" y2="268.10" stroke="#9448ea" stroke-width="1.5" />
<line x1="140.56" y1="276.57" x2="137.56" y2="285.04" stroke="#eb9a2e" stroke-width="1.5" />
<line x1="137.56" y1="285.04" x2="134.56" y2="293.51" stroke="#9448ea" stroke-width="1.5" />
<line x1="164.30" y1="285.04" x2="173.15" y2="285.04" stroke="#eb9a2e" stroke-width="1.5" />
<line x1="173.15" y1="285.04" x2="182.00" y2="285.04" stroke="#9448ea" stroke-width="1.5" />
<line x1="164.30" y1="285.04" x2="161.30" y2="280.81" stroke="#eb9a2e" stroke-width="1.5" />
<line x1="161.30" y1="280.81" x2="158.30" y2="276.57" stroke="#9448ea" stroke-width="1.5" />
<line x1="164.30" y1="285.04" x2="161.30" y2="293.51" stroke="#eb9a2e" stroke-width="1.5" />
<line x1="161.30" y1="293.51" x2="158.30" y2="301.98" stroke="#9448ea" stroke-width="1.5" />
<line x1="188.04" y1="268.10" x2="196.89" y2="268.10" stroke="#eb9a2e" stroke-width="1.5" />
<line x1="196.89" y1="268.10" x2="205.74" y2="268.10" stroke="#9448ea" stroke-width="1.5" />
<line x1="188.04" y1="268.10" x2="185.04" y2="263.87" stroke="#eb9a2e" stroke-width="1.5" />
<line x1="185.04" y1="263.87" x2="182.04" y2="259.63" stroke="#9448ea" stroke-width="1.5" />
<line x1="188.04" y1="268.10" x2="185.04" y2="276.57" stroke="#eb9a2e" stroke-width="1.5" />
<line x1="185.04" y1="276.57" x2="182.04" y2="285.04" stroke="#9448ea" stroke-width="1.5" />
<line x1="188.04" y1="293.51" x2="196.89" y2="293.51" stroke="#eb9a2e" stroke-width="1.5" />
<line x1="196.89" y1="293.51" x2="205.74" y2="293.51" stroke="#9448ea" stroke-width="1.5" />
<line x1="188.04" y1="293.51" x2="185.04" y2="289.28" stroke="#eb9a2e" stroke-width="1.5" />
<line x1="185.04" y1="289.28" x2="182.04" y2="285.04" stroke="#9448ea" stroke-width="1.5" />
<line x1="188.04" y1="293.51" x2="185.04" y2="301.98" stroke="#eb9a2e" stroke-width="1.5" />
<line x1="185.04" y1="301.98" x2="182.04" y2="310.45" stroke="#9448ea" stroke-width="1.5" />
<line x1="211.78" y1="276.57" x2="220.63" y2="276.57" stroke="#eb9a2e" stroke-width="1.5" />
<line x1="220.63" y1="276.57" x2="229.48" y2="276.57" stroke="#9448ea" stroke-width="1.5" />
<line x1="211.78" y1="276.57" x2="208.78" y2="272.34" stroke="#eb9a2e" stroke-width="1.5" />
<line x1="208.78" y1="272.34" x2="205.78" y2="268.10" stroke="#9448ea" stroke-width="1.5" />
<line x1="211.78" y1="276.57" x2="208.78" y2="285.04" stroke="#eb9a2e" stroke-width="1.5" />
<line x1="208.78" y1="285.04" x2="205.78" y2="293.51" stroke="#9448ea" stroke-width="1.5" />
<line x1="235.52" y1="268.10" x2="244.37" y2="268.10" stroke="#eb9a2e" stroke-width="1.5" />
<line x1="244.37" y1="268.10" x2="253.22" y2="268.10" stroke="#9448ea" stroke-width="1.5" />
<line x1="235.52" y1="268.10" x2="232.52" y2="272.34" stroke="#eb9a2e" stroke-width="1.5" />
<line x1="232.52" y1="272.34" x2="229.52" y2="276.57" stroke="#9448ea" stroke-width="1.5" />
<line x1="235.52" y1="268.10" x2="232.52" y2="259.63" stroke="#eb9a2e" stroke-width="1.5" />
<line x1="232.52" y1="259.63" x2="229.52" y2="251.16" stroke="#9448ea" stroke-width="1.5" />
<line x1="235.52" y1="293.51" x2="244.37" y2="293.51" stroke="#eb9a2e" stroke-width="1.5" />
<line x1="244.37" y1="293.51" x2="253.22" y2="293.51" stroke="#9448ea" stroke-width="1.5" />
<line x1="235.52" y1="293.51" x2="232.52" y2="297.75" stroke="#eb9a2e" stroke-width="1.5" />
<line x1="232.52" y1="297.75" x2="229.52" y2="301.98" stroke="#9448ea" stroke-width="1.5" />
<line x1="235.52" y1="293.51" x2="232.52" y2="285.04" stroke="#eb9a2e" stroke-width="1.5" />
<line x1="232.52" y1="285.04" x2="229.52" y2="276.57" stroke="#9448ea" stroke-width="1.5" />
<line x1="259.26" y1="276.57" x2="268.11" y2="276.57" stroke="#eb9a2e" stroke-width="1.5" />
<line x1="268.11" y1="276.57" x2="276.96" y2="276.57" stroke="#9448ea" stroke-width="1.5" />
<line x1="259.26" y1="276.57" x2="256.26" y2="272.34" stroke="#eb9a2e" stroke-width="1.5" />
<line x1="256.26" y1="272.34" x2="253.26" y2="268.10" stroke="#9448ea" stroke-width="1.5" />
<line x1="259.26" y1="276.57" x2="256.26" y2="285.04" stroke="#eb9a2e" stroke-width="1.5" />
<line x1="256.26" y1="285.04" x2="253.26" y2="293.51" stroke="#9448ea" stroke-width="1.5" />
<line x1="283.00" y1="285.04" x2="291.85" y2="285.04" stroke="#eb9a2e" stroke-width="1.5" />
<line x1="291.85" y1="285.04" x2="300.70" y2="285.04" stroke="#9448ea" stroke-width="1.5" />
<line x1="283.00" y1="285.04" x2="280.00" y2="280.81" stroke="#eb9a2e" stroke-width="1.5" />
<line x1="280.00" y1="280.81" x2="277.00" y2="276.57" stroke="#9448ea" stroke-width="1.5" />
<line x1="283.00" y1="285.04" x2="280.00" y2="293.51" stroke="#eb9a2e" stroke-width="1.5" />
<line x1="280.00" y1="293.51" x2="277.00" y2="301.98" stroke="#9448ea" stroke-width="1.5" />
<line x1="306.74" y1="268.10" x2="315.59" y2="268.10" stroke="#eb9a2e" stroke-width="1.5" />
<line x1="315.59" y1="268.10" x2="324.44" y2="268.10" stroke="#9448ea" stroke-width="1.5" />
<line x1="306.74" y1="268.10" x2="303.74" y2="263.87" stroke="#eb9a2e" stroke-width="1.5" />
<line x1="303.74" y1="263.87" x2="300.74" y2="259.63" stroke="#9448ea" stroke-width="1.5" />
<line x1="306.74" y1="268.10" x2="303.74" y2="276.57" stroke="#eb9a2e" stroke-width="1.5" />
<line x1="303.74" y1="276.57" x2="300.74" y2="285.04" stroke="#9448ea" stroke-width="1.5" />
<line x1="306.74" y1="293.51" x2="315.59" y2="293.51" stroke="#eb9a2e" stroke-width="1.5" />
<line x1="315.59" y1="293.51" x2="324.44" y2="293.51" stroke="#9448ea" stroke-width="1.5" />
<line x1="306.74" y1="293.51" x2="303.74" y2="289.28" stroke="#eb9a2e" stroke-width="1.5" />
<line x1="303.74" y1="289.28" x2="300.74" y2="285.04" stroke="#9448ea" stroke-width="1.5" />
<line x1="306.74" y1="293.51" x2="303.74" y2="301.98" stroke="#eb9a2e" stroke-width="1.5" />
<line x1="303.74" y1="301.98" x2="300.74" y2="310.45" stroke="#9448ea" stroke-width="1.5" />
<line x1="330.48" y1="276.57" x2="339.33" y2="276.57" stroke="#eb9a2e" stroke-width="1.5" />
<line x1="339.33" y1="276.57" x2="348.18" y2="276.57" stroke="#9448ea" stroke-width="1.5" />
<line x1="330.48" y1="276.57" x2="327.48" y2="272.34" stroke="#eb9a2e" stroke-width="1.5" />
<line x1="327.48" y1="272.34" x2="324.48" y2="268.10" stroke="#9448ea" stroke-width="1.5" />
<line x1="330.48" y1="276.57" x2="327.48" y2="285.04" stroke="#eb9a2e" stroke-width="1.5" />
<line x1="327.48" y1="285.04" x2="324.48" y2="293.51" stroke="#9448ea" stroke-width="1.5" />
<line x1="354.22" y1="285.04" x2="363.07" y2="285.04" stroke="#eb9a2e" stroke-width="1.5" />
<line x1="363.07" y1="285.04" x2="371.92" y2="285.04" stroke="#9448ea" stroke-width="1.5" />
<line x1="354.22" y1="285.04" x2="351.22" y2="280.81" stroke="#eb9a2e" stroke-width="1.5" />
<line x1="351.22" y1="280.81" x2="348.22" y2="276.57" stroke="#9448ea" stroke-width="1.5" />
<line x1="354.22" y1="285.04" x2="351.22" y2="293.51" stroke="#eb9a2e" stroke-width="1.5" />
<line x1="351.22" y1="293.51" x2="348.22" y2="301.98" stroke="#9448ea" stroke-width="1.5" />
<line x1="377.96" y1="268.10" x2="386.81" y2="268.10" stroke="#eb9a2e" stroke-width="1.5" />
<line x1="386.81" y1="268.10" x2="395.66" y2="268.10" stroke="#9448ea" stroke-width="1.5" />
<line x1="377.96" y1="268.10" x2="374.96" y2="263.87" stroke="#eb9a2e" stroke-width="1.5" />
<line x1="374.96" y1="263.87" x2="371.96" y2="259.63" stroke="#9448ea" stroke-width="1.5" />
<line x1="377.96" y1="268.10" x2="374.96" y2="276.57" stroke="#eb9a2e" stroke-width="1.5" />
<line x1="374.96" y1="276.57" x2="371.96" y2="285.04" stroke="#9448ea" stroke-width="1.5" />
<line x1="377.96" y1="293.51" x2="386.81" y2="293.51" stroke="#eb9a2e" stroke-width="1.5" />
<line x1="386.81" y1="293.51" x2="395.66" y2="293.51" stroke="#9448ea" stroke-width="1.5" />
<line x1="377.96" y1="293.51" x2="374.96" y2="289.28" stroke="#eb9a2e" stroke-width="1.5" />
<line x1="374.96" y1="289.28" x2="371.96" y2="285.04" stroke="#9448ea" stroke-width="1.5" />
<line x1="377.96" y1="293.51" x2="374.96" y2="301.98" stroke="#eb9a2e" stroke-width="1.5" />
<line x1="374.96" y1="301.98" x2="371.96" y2="310.45" stroke="#9448ea" stroke-width="1.5" />
<circle cx="63.30" cy="268.10" r="3.3" fill="url(#gAs)"/>
<circle cx="39.60" cy="259.63" r="3.3" fill="url(#gAs)"/>
<circle cx="39.60" cy="285.04" r="3.3" fill="url(#gAs)"/>
<circle cx="63.30" cy="293.51" r="3.3" fill="url(#gAs)"/>
<circle cx="39.60" cy="310.45" r="3.3" fill="url(#gAs)"/>
<circle cx="87.04" cy="276.57" r="3.3" fill="url(#gAs)"/>
<circle cx="110.78" cy="285.04" r="3.3" fill="url(#gAs)"/>
<circle cx="87.08" cy="301.98" r="3.3" fill="url(#gAs)"/>
<circle cx="134.52" cy="268.10" r="3.3" fill="url(#gAs)"/>
<circle cx="110.82" cy="259.63" r="3.3" fill="url(#gAs)"/>
<circle cx="134.52" cy="293.51" r="3.3" fill="url(#gAs)"/>
<circle cx="110.82" cy="310.45" r="3.3" fill="url(#gAs)"/>
<circle cx="158.26" cy="276.57" r="3.3" fill="url(#gAs)"/>
<circle cx="182.00" cy="285.04" r="3.3" fill="url(#gAs)"/>
<circle cx="158.30" cy="301.98" r="3.3" fill="url(#gAs)"/>
<circle cx="205.74" cy="268.10" r="3.3" fill="url(#gAs)"/>
<circle cx="182.04" cy="259.63" r="3.3" fill="url(#gAs)"/>
<circle cx="205.74" cy="293.51" r="3.3" fill="url(#gAs)"/>
<circle cx="182.04" cy="310.45" r="3.3" fill="url(#gAs)"/>
<circle cx="229.48" cy="276.57" r="3.3" fill="url(#gAs)"/>
<circle cx="253.22" cy="268.10" r="3.3" fill="url(#gAs)"/>
<circle cx="229.52" cy="251.16" r="3.3" fill="url(#gAs)"/>
<circle cx="253.22" cy="293.51" r="3.3" fill="url(#gAs)"/>
<circle cx="229.52" cy="301.98" r="3.3" fill="url(#gAs)"/>
<circle cx="276.96" cy="276.57" r="3.3" fill="url(#gAs)"/>
<circle cx="300.70" cy="285.04" r="3.3" fill="url(#gAs)"/>
<circle cx="277.00" cy="301.98" r="3.3" fill="url(#gAs)"/>
<circle cx="324.44" cy="268.10" r="3.3" fill="url(#gAs)"/>
<circle cx="300.74" cy="259.63" r="3.3" fill="url(#gAs)"/>
<circle cx="324.44" cy="293.51" r="3.3" fill="url(#gAs)"/>
<circle cx="300.74" cy="310.45" r="3.3" fill="url(#gAs)"/>
<circle cx="348.18" cy="276.57" r="3.3" fill="url(#gAs)"/>
<circle cx="371.92" cy="285.04" r="3.3" fill="url(#gAs)"/>
<circle cx="348.22" cy="301.98" r="3.3" fill="url(#gAs)"/>
<circle cx="395.66" cy="268.10" r="3.3" fill="url(#gAs)"/>
<circle cx="371.96" cy="259.63" r="3.3" fill="url(#gAs)"/>
<circle cx="395.66" cy="293.51" r="3.3" fill="url(#gAs)"/>
<circle cx="371.96" cy="310.45" r="3.3" fill="url(#gAs)"/>
<circle cx="45.60" cy="268.10" r="4.3" fill="url(#gGa)"/>
<circle cx="45.60" cy="293.51" r="4.3" fill="url(#gGa)"/>
<circle cx="69.34" cy="276.57" r="4.3" fill="url(#gGa)"/>
<circle cx="93.08" cy="285.04" r="4.3" fill="url(#gGa)"/>
<circle cx="116.82" cy="268.10" r="4.3" fill="url(#gGa)"/>
<circle cx="116.82" cy="293.51" r="4.3" fill="url(#gGa)"/>
<circle cx="140.56" cy="276.57" r="4.3" fill="url(#gGa)"/>
<circle cx="164.30" cy="285.04" r="4.3" fill="url(#gGa)"/>
<circle cx="188.04" cy="268.10" r="4.3" fill="url(#gGa)"/>
<circle cx="188.04" cy="293.51" r="4.3" fill="url(#gGa)"/>
<circle cx="211.78" cy="276.57" r="4.3" fill="url(#gGa)"/>
<circle cx="235.52" cy="268.10" r="4.3" fill="url(#gGa)"/>
<circle cx="235.52" cy="293.51" r="4.3" fill="url(#gGa)"/>
<circle cx="259.26" cy="276.57" r="4.3" fill="url(#gGa)"/>
<circle cx="283.00" cy="285.04" r="4.3" fill="url(#gGa)"/>
<circle cx="306.74" cy="268.10" r="4.3" fill="url(#gGa)"/>
<circle cx="306.74" cy="293.51" r="4.3" fill="url(#gGa)"/>
<circle cx="330.48" cy="276.57" r="4.3" fill="url(#gGa)"/>
<circle cx="354.22" cy="285.04" r="4.3" fill="url(#gGa)"/>
<circle cx="377.96" cy="268.10" r="4.3" fill="url(#gGa)"/>
<circle cx="377.96" cy="293.51" r="4.3" fill="url(#gGa)"/>
<line x1="45.60" y1="268.10" x2="45.60" y2="293.51" stroke="#111" stroke-width="1.1" />
<line x1="377.96" y1="268.10" x2="377.96" y2="293.51" stroke="#888" stroke-width="1.05" />
<line x1="463.90" y1="256.90" x2="796.31" y2="256.90" stroke="#7a7a7a" stroke-width="1.3" />
<line x1="463.90" y1="283.90" x2="796.31" y2="283.90" stroke="#7a7a7a" stroke-width="1.3" />
<line x1="463.90" y1="256.90" x2="473.50" y2="256.90" stroke="#eb9a2e" stroke-width="1.5" />
<line x1="473.50" y1="256.90" x2="483.10" y2="256.90" stroke="#9448ea" stroke-width="1.5" />
<line x1="463.90" y1="256.90" x2="460.70" y2="252.40" stroke="#eb9a2e" stroke-width="1.5" />
<line x1="460.70" y1="252.40" x2="457.50" y2="247.90" stroke="#9448ea" stroke-width="1.5" />
<line x1="463.90" y1="256.90" x2="460.70" y2="265.90" stroke="#eb9a2e" stroke-width="1.5" />
<line x1="460.70" y1="265.90" x2="457.50" y2="274.90" stroke="#9448ea" stroke-width="1.5" />
<line x1="463.90" y1="283.90" x2="473.50" y2="283.90" stroke="#eb9a2e" stroke-width="1.5" />
<line x1="473.50" y1="283.90" x2="483.10" y2="283.90" stroke="#9448ea" stroke-width="1.5" />
<line x1="463.90" y1="283.90" x2="460.70" y2="279.40" stroke="#eb9a2e" stroke-width="1.5" />
<line x1="460.70" y1="279.40" x2="457.50" y2="274.90" stroke="#9448ea" stroke-width="1.5" />
<line x1="463.90" y1="283.90" x2="460.70" y2="292.90" stroke="#eb9a2e" stroke-width="1.5" />
<line x1="460.70" y1="292.90" x2="457.50" y2="301.90" stroke="#9448ea" stroke-width="1.5" />
<line x1="489.47" y1="265.90" x2="499.07" y2="265.90" stroke="#eb9a2e" stroke-width="1.5" />
<line x1="499.07" y1="265.90" x2="508.67" y2="265.90" stroke="#9448ea" stroke-width="1.5" />
<line x1="489.47" y1="265.90" x2="486.27" y2="261.40" stroke="#eb9a2e" stroke-width="1.5" />
<line x1="486.27" y1="261.40" x2="483.07" y2="256.90" stroke="#9448ea" stroke-width="1.5" />
<line x1="489.47" y1="265.90" x2="486.27" y2="274.90" stroke="#eb9a2e" stroke-width="1.5" />
<line x1="486.27" y1="274.90" x2="483.07" y2="283.90" stroke="#9448ea" stroke-width="1.5" />
<line x1="515.04" y1="274.90" x2="524.64" y2="274.90" stroke="#eb9a2e" stroke-width="1.5" />
<line x1="524.64" y1="274.90" x2="534.24" y2="274.90" stroke="#9448ea" stroke-width="1.5" />
<line x1="515.04" y1="274.90" x2="511.84" y2="270.40" stroke="#eb9a2e" stroke-width="1.5" />
<line x1="511.84" y1="270.40" x2="508.64" y2="265.90" stroke="#9448ea" stroke-width="1.5" />
<line x1="515.04" y1="274.90" x2="511.84" y2="283.90" stroke="#eb9a2e" stroke-width="1.5" />
<line x1="511.84" y1="283.90" x2="508.64" y2="292.90" stroke="#9448ea" stroke-width="1.5" />
<line x1="540.61" y1="256.90" x2="550.21" y2="256.90" stroke="#eb9a2e" stroke-width="1.5" />
<line x1="550.21" y1="256.90" x2="559.81" y2="256.90" stroke="#9448ea" stroke-width="1.5" />
<line x1="540.61" y1="256.90" x2="537.41" y2="252.40" stroke="#eb9a2e" stroke-width="1.5" />
<line x1="537.41" y1="252.40" x2="534.21" y2="247.90" stroke="#9448ea" stroke-width="1.5" />
<line x1="540.61" y1="256.90" x2="537.41" y2="265.90" stroke="#eb9a2e" stroke-width="1.5" />
<line x1="537.41" y1="265.90" x2="534.21" y2="274.90" stroke="#9448ea" stroke-width="1.5" />
<line x1="540.61" y1="283.90" x2="550.21" y2="283.90" stroke="#eb9a2e" stroke-width="1.5" />
<line x1="550.21" y1="283.90" x2="559.81" y2="283.90" stroke="#9448ea" stroke-width="1.5" />
<line x1="540.61" y1="283.90" x2="537.41" y2="279.40" stroke="#eb9a2e" stroke-width="1.5" />
<line x1="537.41" y1="279.40" x2="534.21" y2="274.90" stroke="#9448ea" stroke-width="1.5" />
<line x1="540.61" y1="283.90" x2="537.41" y2="292.90" stroke="#eb9a2e" stroke-width="1.5" />
<line x1="537.41" y1="292.90" x2="534.21" y2="301.90" stroke="#9448ea" stroke-width="1.5" />
<line x1="566.18" y1="265.90" x2="575.78" y2="265.90" stroke="#eb9a2e" stroke-width="1.5" />
<line x1="575.78" y1="265.90" x2="585.38" y2="265.90" stroke="#9448ea" stroke-width="1.5" />
<line x1="566.18" y1="265.90" x2="562.98" y2="261.40" stroke="#eb9a2e" stroke-width="1.5" />
<line x1="562.98" y1="261.40" x2="559.78" y2="256.90" stroke="#9448ea" stroke-width="1.5" />
<line x1="566.18" y1="265.90" x2="562.98" y2="274.90" stroke="#eb9a2e" stroke-width="1.5" />
<line x1="562.98" y1="274.90" x2="559.78" y2="283.90" stroke="#9448ea" stroke-width="1.5" />
<line x1="591.75" y1="274.90" x2="601.35" y2="274.90" stroke="#eb9a2e" stroke-width="1.5" />
<line x1="601.35" y1="274.90" x2="610.95" y2="274.90" stroke="#9448ea" stroke-width="1.5" />
<line x1="591.75" y1="274.90" x2="588.55" y2="270.40" stroke="#eb9a2e" stroke-width="1.5" />
<line x1="588.55" y1="270.40" x2="585.35" y2="265.90" stroke="#9448ea" stroke-width="1.5" />
<line x1="591.75" y1="274.90" x2="588.55" y2="283.90" stroke="#eb9a2e" stroke-width="1.5" />
<line x1="588.55" y1="283.90" x2="585.35" y2="292.90" stroke="#9448ea" stroke-width="1.5" />
<line x1="617.32" y1="265.90" x2="626.92" y2="265.90" stroke="#eb9a2e" stroke-width="1.5" />
<line x1="626.92" y1="265.90" x2="636.52" y2="265.90" stroke="#9448ea" stroke-width="1.5" />
<line x1="617.32" y1="265.90" x2="614.12" y2="270.40" stroke="#eb9a2e" stroke-width="1.5" />
<line x1="614.12" y1="270.40" x2="610.92" y2="274.90" stroke="#9448ea" stroke-width="1.5" />
<line x1="617.32" y1="265.90" x2="614.12" y2="256.90" stroke="#eb9a2e" stroke-width="1.5" />
<line x1="614.12" y1="256.90" x2="610.92" y2="247.90" stroke="#9448ea" stroke-width="1.5" />
<line x1="642.89" y1="256.90" x2="652.49" y2="256.90" stroke="#eb9a2e" stroke-width="1.5" />
<line x1="652.49" y1="256.90" x2="662.09" y2="256.90" stroke="#9448ea" stroke-width="1.5" />
<line x1="642.89" y1="256.90" x2="639.69" y2="261.40" stroke="#eb9a2e" stroke-width="1.5" />
<line x1="639.69" y1="261.40" x2="636.49" y2="265.90" stroke="#9448ea" stroke-width="1.5" />
<line x1="642.89" y1="256.90" x2="639.69" y2="247.90" stroke="#eb9a2e" stroke-width="1.5" />
<line x1="639.69" y1="247.90" x2="636.49" y2="238.90" stroke="#9448ea" stroke-width="1.5" />
<line x1="642.89" y1="283.90" x2="652.49" y2="283.90" stroke="#eb9a2e" stroke-width="1.5" />
<line x1="652.49" y1="283.90" x2="662.09" y2="283.90" stroke="#9448ea" stroke-width="1.5" />
<line x1="642.89" y1="283.90" x2="639.69" y2="288.40" stroke="#eb9a2e" stroke-width="1.5" />
<line x1="639.69" y1="288.40" x2="636.49" y2="292.90" stroke="#9448ea" stroke-width="1.5" />
<line x1="642.89" y1="283.90" x2="639.69" y2="274.90" stroke="#eb9a2e" stroke-width="1.5" />
<line x1="639.69" y1="274.90" x2="636.49" y2="265.90" stroke="#9448ea" stroke-width="1.5" />
<line x1="668.46" y1="265.90" x2="678.06" y2="265.90" stroke="#eb9a2e" stroke-width="1.5" />
<line x1="678.06" y1="265.90" x2="687.66" y2="265.90" stroke="#9448ea" stroke-width="1.5" />
<line x1="668.46" y1="265.90" x2="665.26" y2="261.40" stroke="#eb9a2e" stroke-width="1.5" />
<line x1="665.26" y1="261.40" x2="662.06" y2="256.90" stroke="#9448ea" stroke-width="1.5" />
<line x1="668.46" y1="265.90" x2="665.26" y2="274.90" stroke="#eb9a2e" stroke-width="1.5" />
<line x1="665.26" y1="274.90" x2="662.06" y2="283.90" stroke="#9448ea" stroke-width="1.5" />
<line x1="694.03" y1="274.90" x2="703.63" y2="274.90" stroke="#eb9a2e" stroke-width="1.5" />
<line x1="703.63" y1="274.90" x2="713.23" y2="274.90" stroke="#9448ea" stroke-width="1.5" />
<line x1="694.03" y1="274.90" x2="690.83" y2="270.40" stroke="#eb9a2e" stroke-width="1.5" />
<line x1="690.83" y1="270.40" x2="687.63" y2="265.90" stroke="#9448ea" stroke-width="1.5" />
<line x1="694.03" y1="274.90" x2="690.83" y2="283.90" stroke="#eb9a2e" stroke-width="1.5" />
<line x1="690.83" y1="283.90" x2="687.63" y2="292.90" stroke="#9448ea" stroke-width="1.5" />
<line x1="719.60" y1="256.90" x2="729.20" y2="256.90" stroke="#eb9a2e" stroke-width="1.5" />
<line x1="729.20" y1="256.90" x2="738.80" y2="256.90" stroke="#9448ea" stroke-width="1.5" />
<line x1="719.60" y1="256.90" x2="716.40" y2="252.40" stroke="#eb9a2e" stroke-width="1.5" />
<line x1="716.40" y1="252.40" x2="713.20" y2="247.90" stroke="#9448ea" stroke-width="1.5" />
<line x1="719.60" y1="256.90" x2="716.40" y2="265.90" stroke="#eb9a2e" stroke-width="1.5" />
<line x1="716.40" y1="265.90" x2="713.20" y2="274.90" stroke="#9448ea" stroke-width="1.5" />
<line x1="719.60" y1="283.90" x2="729.20" y2="283.90" stroke="#eb9a2e" stroke-width="1.5" />
<line x1="729.20" y1="283.90" x2="738.80" y2="283.90" stroke="#9448ea" stroke-width="1.5" />
<line x1="719.60" y1="283.90" x2="716.40" y2="279.40" stroke="#eb9a2e" stroke-width="1.5" />
<line x1="716.40" y1="279.40" x2="713.20" y2="274.90" stroke="#9448ea" stroke-width="1.5" />
<line x1="719.60" y1="283.90" x2="716.40" y2="292.90" stroke="#eb9a2e" stroke-width="1.5" />
<line x1="716.40" y1="292.90" x2="713.20" y2="301.90" stroke="#9448ea" stroke-width="1.5" />
<line x1="745.17" y1="265.90" x2="754.77" y2="265.90" stroke="#eb9a2e" stroke-width="1.5" />
<line x1="754.77" y1="265.90" x2="764.37" y2="265.90" stroke="#9448ea" stroke-width="1.5" />
<line x1="745.17" y1="265.90" x2="741.97" y2="261.40" stroke="#eb9a2e" stroke-width="1.5" />
<line x1="741.97" y1="261.40" x2="738.77" y2="256.90" stroke="#9448ea" stroke-width="1.5" />
<line x1="745.17" y1="265.90" x2="741.97" y2="274.90" stroke="#eb9a2e" stroke-width="1.5" />
<line x1="741.97" y1="274.90" x2="738.77" y2="283.90" stroke="#9448ea" stroke-width="1.5" />
<line x1="770.74" y1="274.90" x2="780.34" y2="274.90" stroke="#eb9a2e" stroke-width="1.5" />
<line x1="780.34" y1="274.90" x2="789.94" y2="274.90" stroke="#9448ea" stroke-width="1.5" />
<line x1="770.74" y1="274.90" x2="767.54" y2="270.40" stroke="#eb9a2e" stroke-width="1.5" />
<line x1="767.54" y1="270.40" x2="764.34" y2="265.90" stroke="#9448ea" stroke-width="1.5" />
<line x1="770.74" y1="274.90" x2="767.54" y2="283.90" stroke="#eb9a2e" stroke-width="1.5" />
<line x1="767.54" y1="283.90" x2="764.34" y2="292.90" stroke="#9448ea" stroke-width="1.5" />
<line x1="796.31" y1="256.90" x2="805.91" y2="256.90" stroke="#eb9a2e" stroke-width="1.5" />
<line x1="805.91" y1="256.90" x2="815.51" y2="256.90" stroke="#9448ea" stroke-width="1.5" />
<line x1="796.31" y1="256.90" x2="793.11" y2="252.40" stroke="#eb9a2e" stroke-width="1.5" />
<line x1="793.11" y1="252.40" x2="789.91" y2="247.90" stroke="#9448ea" stroke-width="1.5" />
<line x1="796.31" y1="256.90" x2="793.11" y2="265.90" stroke="#eb9a2e" stroke-width="1.5" />
<line x1="793.11" y1="265.90" x2="789.91" y2="274.90" stroke="#9448ea" stroke-width="1.5" />
<line x1="796.31" y1="283.90" x2="805.91" y2="283.90" stroke="#eb9a2e" stroke-width="1.5" />
<line x1="805.91" y1="283.90" x2="815.51" y2="283.90" stroke="#9448ea" stroke-width="1.5" />
<line x1="796.31" y1="283.90" x2="793.11" y2="279.40" stroke="#eb9a2e" stroke-width="1.5" />
<line x1="793.11" y1="279.40" x2="789.91" y2="274.90" stroke="#9448ea" stroke-width="1.5" />
<line x1="796.31" y1="283.90" x2="793.11" y2="292.90" stroke="#eb9a2e" stroke-width="1.5" />
<line x1="793.11" y1="292.90" x2="789.91" y2="301.90" stroke="#9448ea" stroke-width="1.5" />
<circle cx="483.10" cy="256.90" r="3.5" fill="url(#gAs)"/>
<circle cx="457.50" cy="247.90" r="3.5" fill="url(#gAs)"/>
<circle cx="457.50" cy="274.90" r="3.5" fill="url(#gAs)"/>
<circle cx="483.10" cy="283.90" r="3.5" fill="url(#gAs)"/>
<circle cx="457.50" cy="301.90" r="3.5" fill="url(#gAs)"/>
<circle cx="508.67" cy="265.90" r="3.5" fill="url(#gAs)"/>
<circle cx="534.24" cy="274.90" r="3.5" fill="url(#gAs)"/>
<circle cx="508.64" cy="292.90" r="3.5" fill="url(#gAs)"/>
<circle cx="559.81" cy="256.90" r="3.5" fill="url(#gAs)"/>
<circle cx="534.21" cy="247.90" r="3.5" fill="url(#gAs)"/>
<circle cx="559.81" cy="283.90" r="3.5" fill="url(#gAs)"/>
<circle cx="534.21" cy="301.90" r="3.5" fill="url(#gAs)"/>
<circle cx="585.38" cy="265.90" r="3.5" fill="url(#gAs)"/>
<circle cx="610.95" cy="274.90" r="3.5" fill="url(#gAs)"/>
<circle cx="585.35" cy="292.90" r="3.5" fill="url(#gAs)"/>
<circle cx="636.52" cy="265.90" r="3.5" fill="url(#gAs)"/>
<circle cx="610.92" cy="247.90" r="3.5" fill="url(#gAs)"/>
<circle cx="662.09" cy="256.90" r="3.5" fill="url(#gAs)"/>
<circle cx="636.49" cy="238.90" r="3.5" fill="url(#gAs)"/>
<circle cx="662.09" cy="283.90" r="3.5" fill="url(#gAs)"/>
<circle cx="636.49" cy="292.90" r="3.5" fill="url(#gAs)"/>
<circle cx="687.66" cy="265.90" r="3.5" fill="url(#gAs)"/>
<circle cx="713.23" cy="274.90" r="3.5" fill="url(#gAs)"/>
<circle cx="687.63" cy="292.90" r="3.5" fill="url(#gAs)"/>
<circle cx="738.80" cy="256.90" r="3.5" fill="url(#gAs)"/>
<circle cx="713.20" cy="247.90" r="3.5" fill="url(#gAs)"/>
<circle cx="738.80" cy="283.90" r="3.5" fill="url(#gAs)"/>
<circle cx="713.20" cy="301.90" r="3.5" fill="url(#gAs)"/>
<circle cx="764.37" cy="265.90" r="3.5" fill="url(#gAs)"/>
<circle cx="789.94" cy="274.90" r="3.5" fill="url(#gAs)"/>
<circle cx="764.34" cy="292.90" r="3.5" fill="url(#gAs)"/>
<circle cx="815.51" cy="256.90" r="3.5" fill="url(#gAs)"/>
<circle cx="789.91" cy="247.90" r="3.5" fill="url(#gAs)"/>
<circle cx="815.51" cy="283.90" r="3.5" fill="url(#gAs)"/>
<circle cx="789.91" cy="301.90" r="3.5" fill="url(#gAs)"/>
<circle cx="463.90" cy="256.90" r="4.6" fill="url(#gGa)"/>
<circle cx="463.90" cy="283.90" r="4.6" fill="url(#gGa)"/>
<circle cx="489.47" cy="265.90" r="4.6" fill="url(#gGa)"/>
<circle cx="515.04" cy="274.90" r="4.6" fill="url(#gGa)"/>
<circle cx="540.61" cy="256.90" r="4.6" fill="url(#gGa)"/>
<circle cx="540.61" cy="283.90" r="4.6" fill="url(#gGa)"/>
<circle cx="566.18" cy="265.90" r="4.6" fill="url(#gGa)"/>
<circle cx="591.75" cy="274.90" r="4.6" fill="url(#gGa)"/>
<circle cx="617.32" cy="265.90" r="4.6" fill="url(#gGa)"/>
<circle cx="642.89" cy="256.90" r="4.6" fill="url(#gGa)"/>
<circle cx="642.89" cy="283.90" r="4.6" fill="url(#gGa)"/>
<circle cx="668.46" cy="265.90" r="4.6" fill="url(#gGa)"/>
<circle cx="694.03" cy="274.90" r="4.6" fill="url(#gGa)"/>
<circle cx="719.60" cy="256.90" r="4.6" fill="url(#gGa)"/>
<circle cx="719.60" cy="283.90" r="4.6" fill="url(#gGa)"/>
<circle cx="745.17" cy="265.90" r="4.6" fill="url(#gGa)"/>
<circle cx="770.74" cy="274.90" r="4.6" fill="url(#gGa)"/>
<circle cx="796.31" cy="256.90" r="4.6" fill="url(#gGa)"/>
<circle cx="796.31" cy="283.90" r="4.6" fill="url(#gGa)"/>
<line x1="463.90" y1="256.90" x2="463.90" y2="283.90" stroke="#7a7a7a" stroke-width="1.1" />
<line x1="796.31" y1="256.90" x2="796.31" y2="283.90" stroke="#111" stroke-width="1.05" />
<text x="44.30" y="256.30" font-size="12.2" text-anchor="start" fill="#e8501a" >Ga</text>
<text x="66.00" y="263.50" font-size="12.6" text-anchor="start" fill="#7a44fa" >As</text>
<text x="46.20" y="329.60" font-size="16" text-anchor="middle" fill="#000" >A</text>
<text x="69.20" y="329.60" font-size="16" text-anchor="middle" fill="#000" >B</text>
<text x="92.20" y="329.60" font-size="16" text-anchor="middle" fill="#000" >C</text>
<text x="115.20" y="329.60" font-size="16" text-anchor="middle" fill="#000" >A</text>
<text x="138.20" y="329.60" font-size="16" text-anchor="middle" fill="#000" >B</text>
<text x="161.20" y="329.60" font-size="16" text-anchor="middle" fill="#000" >C</text>
<text x="184.20" y="329.60" font-size="16" text-anchor="middle" fill="#e01010" >A</text>
<text x="207.20" y="329.60" font-size="16" text-anchor="middle" fill="#e01010" >B</text>
<text x="230.20" y="329.60" font-size="16" text-anchor="middle" fill="#000" >A</text>
<text x="253.20" y="329.60" font-size="16" text-anchor="middle" fill="#000" >B</text>
<text x="276.20" y="329.60" font-size="16" text-anchor="middle" fill="#000" >C</text>
<text x="299.20" y="329.60" font-size="16" text-anchor="middle" fill="#000" >A</text>
<text x="322.20" y="329.60" font-size="16" text-anchor="middle" fill="#000" >B</text>
<text x="345.20" y="329.60" font-size="16" text-anchor="middle" fill="#000" >C</text>
<text x="368.20" y="329.60" font-size="16" text-anchor="middle" fill="#000" >A</text>
<text x="465.00" y="331.70" font-size="16" text-anchor="middle" fill="#000" >A</text>
<text x="490.45" y="331.70" font-size="16" text-anchor="middle" fill="#000" >B</text>
<text x="515.90" y="331.70" font-size="16" text-anchor="middle" fill="#000" >C</text>
<text x="541.35" y="331.70" font-size="16" text-anchor="middle" fill="#000" >A</text>
<text x="566.80" y="331.70" font-size="16" text-anchor="middle" fill="#000" >B</text>
<text x="592.25" y="331.70" font-size="16" text-anchor="middle" fill="#000" >C</text>
<text x="617.70" y="331.70" font-size="16" text-anchor="middle" fill="#e01010" >B</text>
<text x="643.15" y="331.70" font-size="16" text-anchor="middle" fill="#000" >A</text>
<text x="668.60" y="331.70" font-size="16" text-anchor="middle" fill="#000" >B</text>
<text x="694.05" y="331.70" font-size="16" text-anchor="middle" fill="#000" >C</text>
<text x="719.50" y="331.70" font-size="16" text-anchor="middle" fill="#000" >A</text>
<text x="744.95" y="331.70" font-size="16" text-anchor="middle" fill="#000" >B</text>
<text x="770.40" y="331.70" font-size="16" text-anchor="middle" fill="#000" >C</text>
<text x="795.85" y="331.70" font-size="16" text-anchor="middle" fill="#000" >A</text>
<rect x="76.8" y="357.3" width="183.7" height="110.30000000000001" fill="none" stroke="#959595" stroke-width="1"/>
<line x1="108.80" y1="467.60" x2="108.80" y2="465.00" stroke="#959595" stroke-width="0.9" />
<line x1="149.40" y1="467.60" x2="149.40" y2="465.00" stroke="#959595" stroke-width="0.9" />
<line x1="190.00" y1="467.60" x2="190.00" y2="465.00" stroke="#959595" stroke-width="0.9" />
<line x1="230.60" y1="467.60" x2="230.60" y2="465.00" stroke="#959595" stroke-width="0.9" />
<line x1="88.50" y1="467.60" x2="88.50" y2="462.60" stroke="#959595" stroke-width="0.9" />
<line x1="129.10" y1="467.60" x2="129.10" y2="462.60" stroke="#959595" stroke-width="0.9" />
<line x1="169.70" y1="467.60" x2="169.70" y2="462.60" stroke="#959595" stroke-width="0.9" />
<line x1="210.30" y1="467.60" x2="210.30" y2="462.60" stroke="#959595" stroke-width="0.9" />
<line x1="250.90" y1="467.60" x2="250.90" y2="462.60" stroke="#959595" stroke-width="0.9" />
<line x1="76.80" y1="450.55" x2="79.80" y2="450.55" stroke="#959595" stroke-width="0.9" />
<line x1="76.80" y1="416.45" x2="79.80" y2="416.45" stroke="#959595" stroke-width="0.9" />
<line x1="76.80" y1="382.35" x2="79.80" y2="382.35" stroke="#959595" stroke-width="0.9" />
<line x1="76.80" y1="467.60" x2="82.00" y2="467.60" stroke="#959595" stroke-width="0.9" />
<line x1="76.80" y1="433.50" x2="82.00" y2="433.50" stroke="#959595" stroke-width="0.9" />
<line x1="76.80" y1="399.40" x2="82.00" y2="399.40" stroke="#959595" stroke-width="0.9" />
<line x1="76.80" y1="365.30" x2="82.00" y2="365.30" stroke="#959595" stroke-width="0.9" />
<text x="88.50" y="482.10" font-size="13.0" text-anchor="middle" fill="#000" >−20</text>
<text x="129.10" y="482.10" font-size="13.0" text-anchor="middle" fill="#000" >−10</text>
<text x="169.70" y="482.10" font-size="13.0" text-anchor="middle" fill="#000" >0</text>
<text x="210.30" y="482.10" font-size="13.0" text-anchor="middle" fill="#000" >10</text>
<text x="250.90" y="482.10" font-size="13.0" text-anchor="middle" fill="#000" >20</text>
<text x="73.20" y="472.10" font-size="12.7" text-anchor="end" fill="#000" >0</text>
<text x="73.20" y="438.00" font-size="12.7" text-anchor="end" fill="#000" >0.02</text>
<text x="73.20" y="403.90" font-size="12.7" text-anchor="end" fill="#000" >0.04</text>
<text x="73.20" y="369.80" font-size="12.7" text-anchor="end" fill="#000" >0.06</text>
<line x1="76.80" y1="433.40" x2="260.50" y2="433.40" stroke="#8c8c8c" stroke-width="1" stroke-dasharray="5,3.4"/>
<polyline points="76.80,465.50 86.90,466.20 87.00,466.20 89.80,465.20 100.60,466.20 100.70,466.20 103.50,465.20 113.80,466.20 114.40,466.20 117.20,465.20 127.10,466.20 127.00,466.20 129.80,465.20 140.50,466.20 140.70,466.20 143.50,463.60 153.80,466.20 153.90,466.20 156.70,461.70 167.00,466.20 167.50,466.20 170.30,459.50 180.10,466.20 180.70,466.20 183.50,458.40 193.80,466.20 194.20,466.20 197.00,459.50 207.30,466.20 207.40,466.20 210.20,461.70 220.50,466.20 221.10,466.20 223.90,463.60 233.50,466.20 234.20,466.20 237.00,465.20 246.80,466.20 247.40,466.20 250.20,465.20 260.50,466.20 260.50,466.00" fill="none" stroke="#4cb84c" stroke-width="1.1" stroke-linejoin="round" />
<polyline points="76.30,460.70 86.40,440.10 89.30,461.00 100.10,439.00 103.00,461.00 113.30,436.20 116.70,460.70 126.60,431.40 129.30,461.20 140.00,421.20 143.00,459.40 153.30,406.50 156.20,456.40 166.50,382.10 169.80,448.50 179.60,368.20 183.00,445.10 193.30,378.50 196.50,449.60 206.80,407.00 209.70,454.10 220.00,419.60 223.40,457.10 233.00,428.70 236.50,459.20 246.30,434.90 249.70,459.90 260.00,439.00" fill="none" stroke="#111" stroke-width="1.5" stroke-linejoin="round" />
<polyline points="77.10,461.20 87.30,441.20 90.10,462.30 101.00,440.10 103.80,462.30 114.20,437.30 117.50,462.00 127.50,432.50 130.10,462.50 140.90,422.30 143.80,462.30 154.20,407.60 157.00,461.20 167.40,383.20 170.60,455.50 180.50,369.30 183.80,453.20 194.20,379.60 197.30,456.60 207.70,408.10 210.50,458.90 220.90,420.70 224.20,460.00 233.90,429.80 237.30,460.50 247.20,436.00 250.50,461.20 260.90,440.10" fill="none" stroke="#3d8ec9" stroke-width="1.4" stroke-linejoin="round" />
<circle cx="77.00" cy="467.70" r="3.3" fill="#ff9200" stroke="#000" stroke-width="1.05"/>
<circle cx="90.90" cy="467.70" r="3.3" fill="#ff9200" stroke="#000" stroke-width="1.05"/>
<circle cx="104.20" cy="467.70" r="3.3" fill="#ff9200" stroke="#000" stroke-width="1.05"/>
<circle cx="117.50" cy="467.70" r="3.3" fill="#ff9200" stroke="#000" stroke-width="1.05"/>
<circle cx="130.80" cy="467.70" r="3.3" fill="#ff9200" stroke="#000" stroke-width="1.05"/>
<circle cx="144.10" cy="467.70" r="3.3" fill="#ff9200" stroke="#000" stroke-width="1.05"/>
<circle cx="157.40" cy="467.70" r="3.3" fill="#ff9200" stroke="#000" stroke-width="1.05"/>
<circle cx="170.70" cy="467.70" r="3.3" fill="#ff9200" stroke="#000" stroke-width="1.05"/>
<circle cx="184.00" cy="467.70" r="3.3" fill="#ff9200" stroke="#000" stroke-width="1.05"/>
<circle cx="197.30" cy="467.70" r="3.3" fill="#ff9200" stroke="#000" stroke-width="1.05"/>
<circle cx="210.60" cy="467.70" r="3.3" fill="#ff9200" stroke="#000" stroke-width="1.05"/>
<circle cx="223.90" cy="467.70" r="3.3" fill="#ff9200" stroke="#000" stroke-width="1.05"/>
<circle cx="237.20" cy="467.70" r="3.3" fill="#ff9200" stroke="#000" stroke-width="1.05"/>
<circle cx="250.50" cy="467.70" r="3.3" fill="#ff9200" stroke="#000" stroke-width="1.05"/>
<circle cx="86.90" cy="467.70" r="3.3" fill="#d682f7" stroke="#000" stroke-width="1.05"/>
<line x1="85.30" y1="467.70" x2="88.10" y2="467.70" stroke="#222" stroke-width="0.8"/>
<circle cx="100.20" cy="467.70" r="3.3" fill="#d682f7" stroke="#000" stroke-width="1.05"/>
<line x1="98.60" y1="467.70" x2="101.40" y2="467.70" stroke="#222" stroke-width="0.8"/>
<circle cx="113.50" cy="467.70" r="3.3" fill="#d682f7" stroke="#000" stroke-width="1.05"/>
<line x1="111.90" y1="467.70" x2="114.70" y2="467.70" stroke="#222" stroke-width="0.8"/>
<circle cx="126.80" cy="467.70" r="3.3" fill="#d682f7" stroke="#000" stroke-width="1.05"/>
<line x1="125.20" y1="467.70" x2="128.00" y2="467.70" stroke="#222" stroke-width="0.8"/>
<circle cx="140.10" cy="467.70" r="3.3" fill="#d682f7" stroke="#000" stroke-width="1.05"/>
<line x1="138.50" y1="467.70" x2="141.30" y2="467.70" stroke="#222" stroke-width="0.8"/>
<circle cx="153.40" cy="467.70" r="3.3" fill="#d682f7" stroke="#000" stroke-width="1.05"/>
<line x1="151.80" y1="467.70" x2="154.60" y2="467.70" stroke="#222" stroke-width="0.8"/>
<circle cx="166.70" cy="467.70" r="3.3" fill="#d682f7" stroke="#000" stroke-width="1.05"/>
<line x1="165.10" y1="467.70" x2="167.90" y2="467.70" stroke="#222" stroke-width="0.8"/>
<circle cx="180.00" cy="467.70" r="3.3" fill="#d682f7" stroke="#000" stroke-width="1.05"/>
<line x1="178.40" y1="467.70" x2="181.20" y2="467.70" stroke="#222" stroke-width="0.8"/>
<circle cx="193.30" cy="467.70" r="3.3" fill="#d682f7" stroke="#000" stroke-width="1.05"/>
<line x1="191.70" y1="467.70" x2="194.50" y2="467.70" stroke="#222" stroke-width="0.8"/>
<circle cx="206.60" cy="467.70" r="3.3" fill="#d682f7" stroke="#000" stroke-width="1.05"/>
<line x1="205.00" y1="467.70" x2="207.80" y2="467.70" stroke="#222" stroke-width="0.8"/>
<circle cx="219.90" cy="467.70" r="3.3" fill="#d682f7" stroke="#000" stroke-width="1.05"/>
<line x1="218.30" y1="467.70" x2="221.10" y2="467.70" stroke="#222" stroke-width="0.8"/>
<circle cx="233.20" cy="467.70" r="3.3" fill="#d682f7" stroke="#000" stroke-width="1.05"/>
<line x1="231.60" y1="467.70" x2="234.40" y2="467.70" stroke="#222" stroke-width="0.8"/>
<circle cx="246.50" cy="467.70" r="3.3" fill="#d682f7" stroke="#000" stroke-width="1.05"/>
<line x1="244.90" y1="467.70" x2="247.70" y2="467.70" stroke="#222" stroke-width="0.8"/>
<circle cx="259.80" cy="467.70" r="3.3" fill="#d682f7" stroke="#000" stroke-width="1.05"/>
<line x1="258.20" y1="467.70" x2="261.00" y2="467.70" stroke="#222" stroke-width="0.8"/>
<text x="20.80" y="369.60" font-size="14.0" text-anchor="start" fill="#000" >(c)</text>
<text x="90.50" y="370.80" font-size="12.6" text-anchor="start" fill="#000" ><tspan font-style="italic">E</tspan> = 0</text>
<text x="77.60" y="388.30" font-size="9.8" text-anchor="start" fill="#000" >(ABC*2)AB(ABC*2)</text>
<line x1="212.00" y1="364.00" x2="227.40" y2="364.00" stroke="#333" stroke-width="1.6" />
<line x1="212.00" y1="379.40" x2="227.40" y2="379.40" stroke="#4cb84c" stroke-width="1.1" />
<line x1="212.00" y1="395.20" x2="227.40" y2="395.20" stroke="#6aaed6" stroke-width="1.4" />
<text x="233.00" y="368.40" font-size="12.6" text-anchor="start" fill="#000" >total</text>
<text x="233.00" y="384.10" font-size="12.6" text-anchor="start" fill="#000" >d</text>
<text x="233.00" y="399.80" font-size="12.6" text-anchor="start" fill="#000" >p</text>
<text x="168.50" y="495.00" font-size="12.7" text-anchor="middle" fill="#000" ><tspan font-style="italic">z</tspan>-coordinate (Å)</text>
<rect x="338.4" y="358.5" width="183.0" height="109.80000000000001" fill="none" stroke="#959595" stroke-width="1"/>
<line x1="360.15" y1="468.30" x2="360.15" y2="465.70" stroke="#959595" stroke-width="0.9" />
<line x1="388.45" y1="468.30" x2="388.45" y2="465.70" stroke="#959595" stroke-width="0.9" />
<line x1="416.75" y1="468.30" x2="416.75" y2="465.70" stroke="#959595" stroke-width="0.9" />
<line x1="445.05" y1="468.30" x2="445.05" y2="465.70" stroke="#959595" stroke-width="0.9" />
<line x1="473.35" y1="468.30" x2="473.35" y2="465.70" stroke="#959595" stroke-width="0.9" />
<line x1="501.65" y1="468.30" x2="501.65" y2="465.70" stroke="#959595" stroke-width="0.9" />
<line x1="346.00" y1="468.30" x2="346.00" y2="463.30" stroke="#959595" stroke-width="0.9" />
<line x1="374.30" y1="468.30" x2="374.30" y2="463.30" stroke="#959595" stroke-width="0.9" />
<line x1="402.60" y1="468.30" x2="402.60" y2="463.30" stroke="#959595" stroke-width="0.9" />
<line x1="430.90" y1="468.30" x2="430.90" y2="463.30" stroke="#959595" stroke-width="0.9" />
<line x1="459.20" y1="468.30" x2="459.20" y2="463.30" stroke="#959595" stroke-width="0.9" />
<line x1="487.50" y1="468.30" x2="487.50" y2="463.30" stroke="#959595" stroke-width="0.9" />
<line x1="515.80" y1="468.30" x2="515.80" y2="463.30" stroke="#959595" stroke-width="0.9" />
<line x1="338.40" y1="449.95" x2="341.40" y2="449.95" stroke="#959595" stroke-width="0.9" />
<line x1="338.40" y1="413.25" x2="341.40" y2="413.25" stroke="#959595" stroke-width="0.9" />
<line x1="338.40" y1="376.55" x2="341.40" y2="376.55" stroke="#959595" stroke-width="0.9" />
<line x1="338.40" y1="468.30" x2="343.60" y2="468.30" stroke="#959595" stroke-width="0.9" />
<line x1="338.40" y1="431.60" x2="343.60" y2="431.60" stroke="#959595" stroke-width="0.9" />
<line x1="338.40" y1="394.90" x2="343.60" y2="394.90" stroke="#959595" stroke-width="0.9" />
<line x1="338.40" y1="358.20" x2="343.60" y2="358.20" stroke="#959595" stroke-width="0.9" />
<text x="346.00" y="482.80" font-size="13.0" text-anchor="middle" fill="#000" >−30</text>
<text x="374.30" y="482.80" font-size="13.0" text-anchor="middle" fill="#000" >−20</text>
<text x="402.60" y="482.80" font-size="13.0" text-anchor="middle" fill="#000" >−10</text>
<text x="430.90" y="482.80" font-size="13.0" text-anchor="middle" fill="#000" >0</text>
<text x="459.20" y="482.80" font-size="13.0" text-anchor="middle" fill="#000" >10</text>
<text x="487.50" y="482.80" font-size="13.0" text-anchor="middle" fill="#000" >20</text>
<text x="515.80" y="482.80" font-size="13.0" text-anchor="middle" fill="#000" >30</text>
<text x="334.80" y="472.80" font-size="12.7" text-anchor="end" fill="#000" >0</text>
<text x="334.80" y="436.10" font-size="12.7" text-anchor="end" fill="#000" >0.02</text>
<text x="334.80" y="399.40" font-size="12.7" text-anchor="end" fill="#000" >0.04</text>
<text x="334.80" y="362.70" font-size="12.7" text-anchor="end" fill="#000" >0.06</text>
<line x1="338.40" y1="444.40" x2="521.40" y2="444.40" stroke="#222" stroke-width="1.2" stroke-dasharray="5,3.6"/>
<polyline points="338.40,467.60 345.60,467.90 344.00,467.70 347.40,467.40 354.90,467.90 353.30,467.70 356.70,467.40 364.30,467.90 362.70,467.70 366.10,467.40 373.30,467.90 371.80,467.70 375.20,467.40 382.70,467.90 381.40,467.70 384.80,466.80 391.80,467.90 390.80,467.70 394.20,466.00 401.10,467.90 399.80,467.70 403.20,465.50 410.30,467.90 409.30,467.70 412.70,464.30 419.60,467.90 418.70,467.70 422.10,462.30 428.60,467.90 428.00,467.70 431.40,460.50 438.20,467.90 437.40,467.70 440.80,458.90 447.50,467.90 446.60,467.70 450.00,461.00 456.80,467.90 455.90,467.70 459.30,463.10 466.30,467.90 465.10,467.70 468.50,464.70 475.60,467.90 474.40,467.70 477.80,465.80 484.90,467.90 483.90,467.70 487.30,466.60 494.10,467.90 493.10,467.70 496.50,467.40 503.40,467.90 502.20,467.70 505.60,467.40 512.70,467.90 511.60,467.70 515.00,467.40 521.30,467.90 521.40,467.80" fill="none" stroke="#4cb84c" stroke-width="1.2" stroke-linejoin="round" />
<polyline points="338.70,465.80 345.90,456.10 347.70,465.95 355.20,455.50 357.00,465.95 364.60,454.90 366.40,465.55 373.60,452.90 375.50,465.55 383.00,449.50 385.10,464.81 392.10,445.40 394.50,463.49 401.40,437.00 403.50,462.64 410.60,425.00 413.00,459.56 419.90,411.40 422.40,455.36 428.90,385.40 431.70,449.94 438.50,368.80 441.10,445.50 447.80,386.90 450.30,453.19 457.10,411.90 459.60,457.38 466.60,426.80 468.80,460.02 475.90,436.80 478.10,462.11 485.20,443.70 487.60,463.83 494.40,449.10 496.80,465.05 503.70,452.30 505.90,465.55 513.00,454.60 515.30,465.55 521.60,455.80" fill="none" stroke="#111" stroke-width="1.5" stroke-linejoin="round" />
<polyline points="338.40,466.40 345.60,456.70 347.40,466.40 354.90,456.10 356.70,466.40 364.30,455.50 366.10,466.00 373.30,453.50 375.20,466.00 382.70,450.10 384.80,465.80 391.80,446.00 394.20,465.20 401.10,437.60 403.20,464.80 410.30,425.60 412.70,462.80 419.60,412.00 422.10,460.40 428.60,386.00 431.40,456.60 438.20,369.40 440.80,453.60 447.50,387.50 450.00,459.40 456.80,412.50 459.30,461.70 466.30,427.40 468.50,462.90 475.60,437.40 477.80,464.00 484.90,444.30 487.30,465.00 494.10,449.70 496.50,465.50 503.40,452.90 505.60,466.00 512.70,455.20 515.00,466.00 521.30,456.40" fill="none" stroke="#3d8ec9" stroke-width="1.4" stroke-linejoin="round" />
<text x="281.20" y="370.70" font-size="14.0" text-anchor="start" fill="#000" >(d)</text>
<text x="347.00" y="374.00" font-size="12.6" text-anchor="start" fill="#000" ><tspan font-style="italic">E</tspan> = 0</text>
<text x="340.20" y="389.00" font-size="9.8" text-anchor="start" fill="#000" >(ABC*3)AB(ABC*3)</text>
<text x="430.00" y="495.80" font-size="12.7" text-anchor="middle" fill="#000" ><tspan font-style="italic">z</tspan>-coordinate (Å)</text>
<rect x="589.6" y="358.7" width="183.0" height="109.40000000000003" fill="none" stroke="#959595" stroke-width="1"/>
<line x1="611.55" y1="468.10" x2="611.55" y2="465.50" stroke="#959595" stroke-width="0.9" />
<line x1="639.85" y1="468.10" x2="639.85" y2="465.50" stroke="#959595" stroke-width="0.9" />
<line x1="668.15" y1="468.10" x2="668.15" y2="465.50" stroke="#959595" stroke-width="0.9" />
<line x1="696.45" y1="468.10" x2="696.45" y2="465.50" stroke="#959595" stroke-width="0.9" />
<line x1="724.75" y1="468.10" x2="724.75" y2="465.50" stroke="#959595" stroke-width="0.9" />
<line x1="753.05" y1="468.10" x2="753.05" y2="465.50" stroke="#959595" stroke-width="0.9" />
<line x1="597.40" y1="468.10" x2="597.40" y2="463.10" stroke="#959595" stroke-width="0.9" />
<line x1="625.70" y1="468.10" x2="625.70" y2="463.10" stroke="#959595" stroke-width="0.9" />
<line x1="654.00" y1="468.10" x2="654.00" y2="463.10" stroke="#959595" stroke-width="0.9" />
<line x1="682.30" y1="468.10" x2="682.30" y2="463.10" stroke="#959595" stroke-width="0.9" />
<line x1="710.60" y1="468.10" x2="710.60" y2="463.10" stroke="#959595" stroke-width="0.9" />
<line x1="738.90" y1="468.10" x2="738.90" y2="463.10" stroke="#959595" stroke-width="0.9" />
<line x1="767.20" y1="468.10" x2="767.20" y2="463.10" stroke="#959595" stroke-width="0.9" />
<line x1="589.60" y1="443.70" x2="592.60" y2="443.70" stroke="#959595" stroke-width="0.9" />
<line x1="589.60" y1="394.90" x2="592.60" y2="394.90" stroke="#959595" stroke-width="0.9" />
<line x1="589.60" y1="468.10" x2="594.80" y2="468.10" stroke="#959595" stroke-width="0.9" />
<line x1="589.60" y1="419.30" x2="594.80" y2="419.30" stroke="#959595" stroke-width="0.9" />
<line x1="589.60" y1="370.50" x2="594.80" y2="370.50" stroke="#959595" stroke-width="0.9" />
<text x="597.40" y="482.60" font-size="13.0" text-anchor="middle" fill="#000" >−30</text>
<text x="625.70" y="482.60" font-size="13.0" text-anchor="middle" fill="#000" >−20</text>
<text x="654.00" y="482.60" font-size="13.0" text-anchor="middle" fill="#000" >−10</text>
<text x="682.30" y="482.60" font-size="13.0" text-anchor="middle" fill="#000" >0</text>
<text x="710.60" y="482.60" font-size="13.0" text-anchor="middle" fill="#000" >10</text>
<text x="738.90" y="482.60" font-size="13.0" text-anchor="middle" fill="#000" >20</text>
<text x="767.20" y="482.60" font-size="13.0" text-anchor="middle" fill="#000" >30</text>
<text x="586.00" y="472.60" font-size="12.7" text-anchor="end" fill="#000" >0</text>
<text x="586.00" y="423.80" font-size="12.7" text-anchor="end" fill="#000" >0.02</text>
<text x="586.00" y="375.00" font-size="12.7" text-anchor="end" fill="#000" >0.04</text>
<line x1="589.60" y1="449.10" x2="772.60" y2="449.10" stroke="#aaaaaa" stroke-width="1.2" stroke-dasharray="4.5,3.2"/>
<polyline points="589.60,468.00 670.00,468.00 670.00,467.99 671.00,467.98 672.00,467.96 673.00,467.94 674.00,467.91 675.00,467.86 676.00,467.79 677.00,467.70 678.00,467.58 679.00,467.44 680.00,467.26 681.00,467.07 682.00,466.86 683.00,466.65 684.00,466.44 685.00,466.26 686.00,466.12 687.00,466.03 688.00,466.00 689.00,466.03 690.00,466.12 691.00,466.26 692.00,466.44 693.00,466.65 694.00,466.86 695.00,467.07 696.00,467.26 697.00,467.44 698.00,467.58 699.00,467.70 700.00,467.79 701.00,467.86 702.00,467.91 703.00,467.94 704.00,467.96 705.00,467.98 706.00,467.99 707.00,467.99 708.00,468.00 709.00,468.00 710.00,468.00 772.60,468.00" fill="none" stroke="#4cb84c" stroke-width="1.1" stroke-linejoin="round" />
<polyline points="589.60,468.10 662.00,468.10 662.00,468.08 663.00,468.07 664.00,468.07 665.00,468.06 666.00,468.04 667.00,468.03 668.00,468.01 669.00,467.98 670.00,467.95 671.00,467.91 672.00,467.86 673.00,467.80 674.00,467.72 675.00,467.63 676.00,467.52 677.00,467.39 678.00,467.23 679.00,467.04 680.00,466.82 681.00,466.56 682.00,466.27 683.00,465.93 684.00,465.55 685.00,465.13 686.00,464.66 687.00,464.17 688.00,463.66 689.00,463.14 690.00,462.65 691.00,462.24 692.00,462.18 693.00,462.56 694.00,463.04 695.00,463.55 696.00,464.07 697.00,464.57 698.00,465.04 699.00,465.47 700.00,465.86 701.00,466.20 702.00,466.51 703.00,466.77 704.00,467.00 705.00,467.19 706.00,467.36 707.00,467.50 708.00,467.61 709.00,467.71 710.00,467.79 711.00,467.85 712.00,467.90 713.00,467.94 714.00,467.98 715.00,468.00 716.00,468.02 717.00,468.04 718.00,468.05 719.00,468.07 720.00,468.07 721.00,468.08 722.00,468.08 772.60,468.10" fill="none" stroke="#3a88c0" stroke-width="1.1" stroke-linejoin="round" />
<polyline points="589.80,426.65 596.60,427.25 599.70,426.05 604.60,426.65 608.30,425.65 613.80,426.65 617.50,425.85 623.10,426.65 627.10,425.85 633.50,427.55 638.50,426.65 642.20,426.35 645.00,425.25 654.50,431.25 663.70,418.85 673.10,447.65 682.60,370.30 692.20,458.40 698.20,396.90 700.60,389.30 709.30,444.55 719.10,424.85 726.40,432.85 738.10,427.95 744.90,429.35 748.60,428.25 754.10,428.25 756.80,427.25 763.30,427.95 766.40,426.95 772.60,427.55" fill="none" stroke="#111" stroke-width="1.5" stroke-linejoin="round" />
<polyline points="589.80,427.20 596.60,427.80 599.70,426.60 604.60,427.20 608.30,426.20 613.80,427.20 617.50,426.40 623.10,427.20 627.10,426.40 633.50,428.10 638.50,427.20 642.20,426.90 645.00,425.80 654.50,431.80 663.70,419.40 673.10,448.20 682.60,372.90 691.60,467.90 700.60,391.50 709.30,445.10 719.10,425.40 726.40,433.40 738.10,428.50 744.90,429.90 748.60,428.80 754.10,428.80 756.80,427.80 763.30,428.50 766.40,427.50 772.60,428.10" fill="none" stroke="#e8301e" stroke-width="1.3" stroke-linejoin="round" />
<text x="529.30" y="370.70" font-size="14.0" text-anchor="start" fill="#000" >(e)</text>
<text x="598.50" y="373.90" font-size="12.6" text-anchor="start" fill="#000" ><tspan font-style="italic">E</tspan> = 1.53 eV</text>
<text x="591.00" y="388.40" font-size="9.8" text-anchor="start" fill="#000" >(ABC*3)AB(ABC*3)</text>
<line x1="720.00" y1="364.80" x2="735.20" y2="364.80" stroke="#111" stroke-width="1.6" />
<line x1="720.00" y1="380.80" x2="735.20" y2="380.80" stroke="#ee3322" stroke-width="1.6" />
<text x="741.30" y="369.90" font-size="12.6" text-anchor="start" fill="#000" >total</text>
<text x="741.30" y="385.60" font-size="12.6" text-anchor="start" fill="#000" >s</text>
<text x="681.00" y="495.80" font-size="12.7" text-anchor="middle" fill="#000" ><tspan font-style="italic">z</tspan>-coordinate (Å)</text>
</svg>
</body></html>
